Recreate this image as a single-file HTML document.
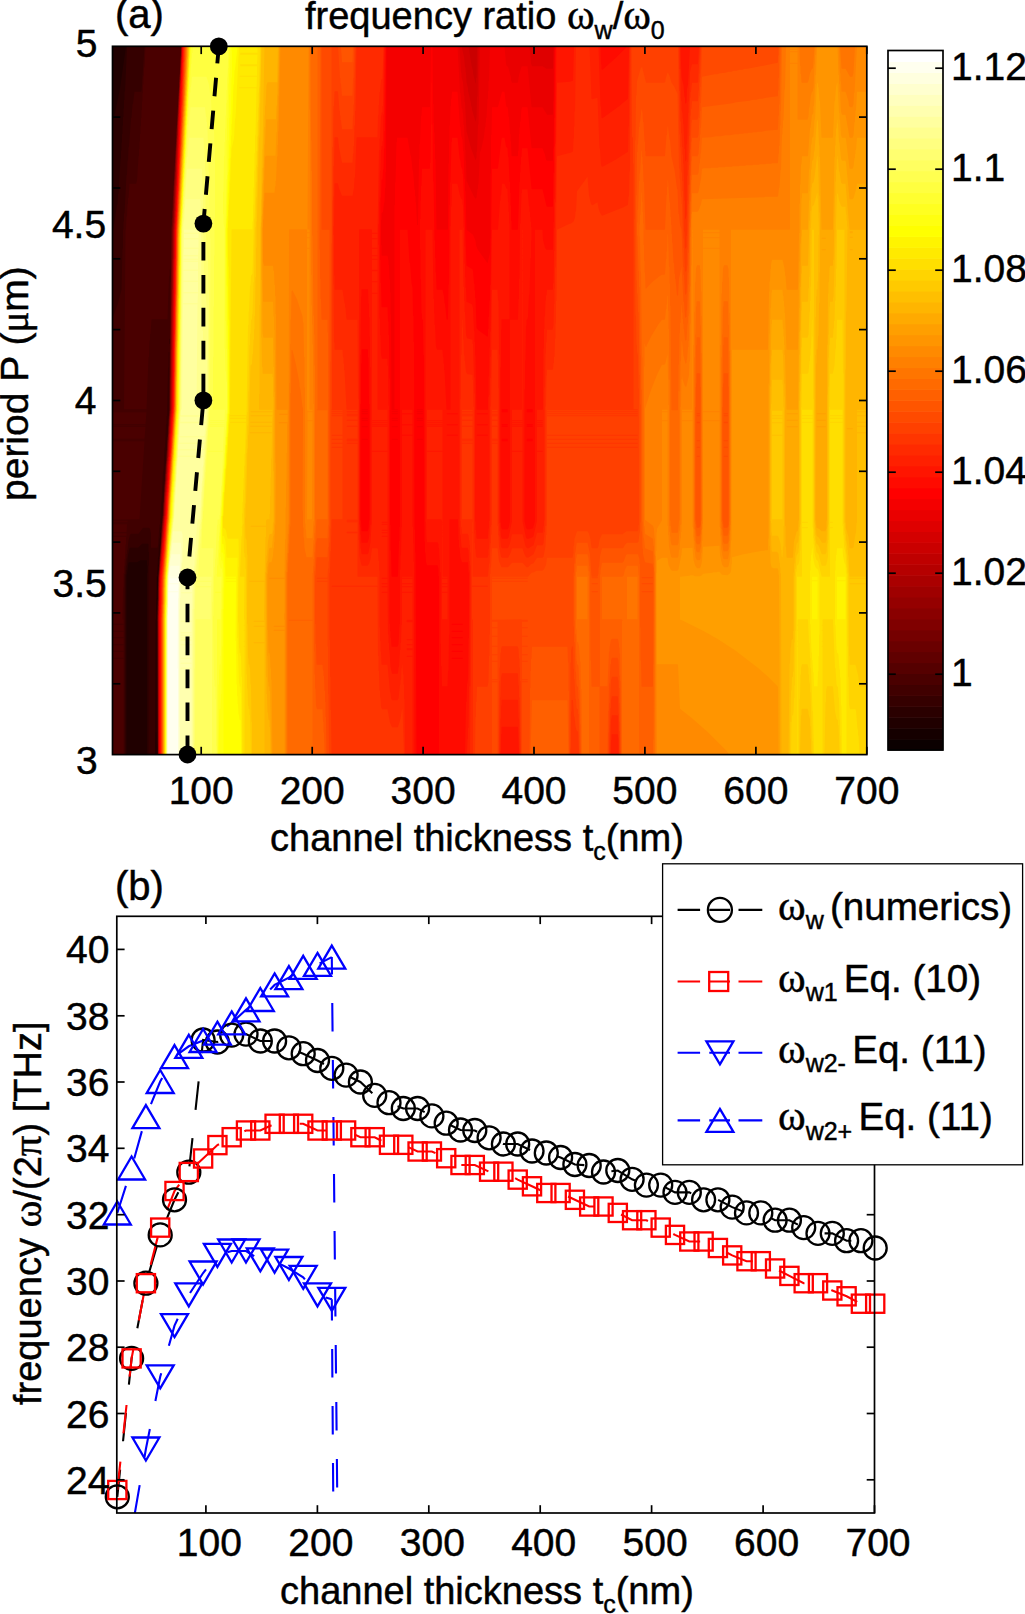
<!DOCTYPE html>
<html><head><meta charset="utf-8"><style>html,body{margin:0;padding:0;background:#fff;width:1025px;height:1614px;overflow:hidden}svg{display:block}text{stroke:#000;stroke-width:0.45px;paint-order:stroke}</style></head>
<body><svg width="1025" height="1614" viewBox="0 0 1025 1614">
<rect width="1025" height="1614" fill="#fff"/>
<g transform="translate(112.5,46.3) scale(0.5)">
<rect x="0" y="0" width="1509" height="1417" fill="#200000"/>
<path fill="#2a0000" fill-rule="evenodd" d="M27 0 15 84 5 134 0 151 0 1416 28 1416 28 1057 29 1056 32 1033 33 1032 49 1032 56 1028 68 1028 69 1029 69 1038 70 1039 70 1053 69 1054 69 1416 86 1416 86 1373 87 1372 88 1373 88 1416 1508 1416 1508 0ZM89 1103 90 1104 90 1130 89 1131 88 1130 88 1104ZM90 1060 91 1061 91 1087 90 1088 89 1087 89 1061ZM91 1048 92 1049 92 1055 91 1056 90 1055 90 1049ZM92 1036 93 1037 92 1041 91 1040ZM92 1025 93 1024 94 1025 93 1026Z"/>
<path fill="#350000" fill-rule="evenodd" d="M30 0 29 2 25 90 24 91 24 107 23 108 23 124 22 125 22 141 21 142 21 158 20 159 20 175 19 176 19 192 18 193 18 208 17 209 17 224 16 225 12 295 11 296 10 316 9 317 2 364 0 367 0 1416 26 1416 26 1057 27 1056 27 1048 28 1047 28 1039 29 1038 31 1018 34 1004 35 1003 51 1003 59 995 71 995 72 996 72 1011 73 1012 73 1038 72 1039 72 1416 85 1416 86 1147 87 1146 88 1061 89 1060 91 1022 92 1021 93 997 94 996 94 985 95 984 96 985 96 999 95 1000 94 1029 93 1030 92 1058 91 1059 90 1140 89 1141 89 1416 1508 1416 1508 0ZM96 973 97 974 97 984 96 985 95 984 95 974ZM97 962 98 963 98 969 97 970 96 969 96 963ZM98 951 99 952 98 955 97 954Z"/>
<path fill="#400000" fill-rule="evenodd" d="M64 0 58 90 57 91 44 91 41 115 40 116 38 143 37 144 33 201 32 202 31 228 30 229 29 257 28 258 24 334 23 335 23 350 22 351 22 366 21 367 21 404 20 405 18 487 10 517 0 544 0 1416 24 1416 24 1056 25 1055 27 1025 28 1024 28 1016 29 1015 29 1008 30 1007 32 989 35 977 37 975 52 975 61 963 73 963 75 965 77 975 77 1003 90 1003 91 999 94 957 95 956 95 945 96 944 97 913 98 912 101 850 102 849 104 803 105 802 107 756 108 755 108 740 109 739 111 643 112 642 112 612 113 611 114 612 113 739 112 740 112 755 111 756 110 787 109 788 107 834 106 835 106 849 105 850 100 944 99 945 98 974 97 975 95 1018 94 1019 93 1047 92 1048 92 1063 91 1064 91 1106 90 1107 90 1395 91 1396 91 1416 1508 1416 1508 0ZM114 585 115 586 115 595 114 596 113 595 113 586Z"/>
<path fill="#4a0000" fill-rule="evenodd" d="M0 1225 0 1416 22 1416 22 1225ZM0 1211 0 1223 22 1223 22 1211ZM0 1198 0 1209 22 1209 22 1198ZM0 1184 0 1196 22 1196 22 1184ZM0 1171 0 1182 22 1182 22 1171ZM0 1157 0 1169 22 1169 22 1157ZM0 981 0 1155 22 1155 22 1147 20 1146 21 1083 22 1082 22 1054 23 1053 23 1040 24 1039 24 1026 25 1025 26 997 27 996 27 983 28 981ZM0 974 0 979 28 979 28 974ZM0 956 0 972 28 972 29 956ZM0 953 0 954 30 954 30 953ZM0 949 0 951 30 951 30 949ZM0 790 0 947 54 946 64 790ZM0 787 0 788 64 788 64 787ZM0 761 0 785 64 785 66 761ZM0 758 0 759 66 759 66 758ZM0 732 0 756 66 756 68 732ZM0 729 0 730 68 730 68 729ZM66 0 64 42 63 43 63 59 62 60 62 76 61 77 61 93 60 94 60 110 59 111 59 127 58 128 58 143 57 144 57 159 56 160 56 175 55 176 55 190 54 191 54 205 53 206 53 219 52 220 49 269 47 275 34 275 32 303 31 304 31 315 30 316 29 340 28 341 27 366 26 367 23 726 68 726 72 622 73 621 74 589 75 588 75 576 76 575 78 547 79 546 110 546 113 460 114 459 114 447 115 446 116 447 114 729 113 730 113 745 112 746 109 808 108 809 107 839 106 840 106 855 105 856 105 870 104 871 102 918 101 919 100 949 99 950 96 1007 95 1008 95 1021 94 1022 94 1036 93 1037 93 1050 92 1051 92 1073 91 1074 91 1116 90 1117 91 1416 1508 1416 1508 0Z"/>
<path fill="#550000" fill-rule="evenodd" d="M137 0 134 65 133 66 133 84 132 85 132 102 131 103 131 121 130 122 130 139 129 140 129 158 128 159 128 176 127 177 127 195 126 196 126 214 125 215 125 232 124 233 124 251 123 252 123 269 122 270 122 288 121 289 121 307 120 308 120 326 119 327 119 345 118 346 118 364 117 365 117 471 116 472 116 577 115 578 114 734 113 735 112 766 111 767 111 781 110 782 108 829 107 830 105 876 104 877 102 923 101 924 101 939 100 940 100 954 99 955 96 1011 95 1012 95 1025 94 1026 94 1039 93 1040 93 1054 92 1055 92 1083 91 1084 91 1126 90 1127 91 1416 1508 1416 1508 0Z"/>
<path fill="#600000" fill-rule="evenodd" d="M137 0 134 70 133 71 133 89 132 90 132 108 131 109 131 126 130 127 130 145 129 146 129 164 128 165 128 183 127 184 127 202 126 203 126 221 125 222 125 240 124 241 124 259 123 260 123 278 122 279 119 358 118 359 114 739 113 740 111 787 110 788 108 834 107 835 105 881 104 882 104 897 103 898 103 912 102 913 101 944 100 945 96 1015 95 1016 95 1029 94 1030 94 1043 93 1044 93 1057 92 1058 91 1136 90 1137 91 1416 1508 1416 1508 0Z"/>
<path fill="#6a0000" fill-rule="evenodd" d="M138 0 137 1 137 19 136 20 136 37 135 38 135 56 134 57 134 75 133 76 133 94 132 95 132 113 131 114 131 132 130 133 130 151 129 152 129 170 128 171 128 190 127 191 127 209 126 210 126 228 125 229 125 248 124 249 124 268 123 269 123 288 122 289 121 329 120 330 120 351 119 352 115 729 114 730 114 745 113 746 113 760 112 761 112 776 111 777 110 808 109 809 107 855 106 856 106 870 105 871 101 949 100 950 100 963 99 964 94 1046 93 1047 93 1060 92 1061 92 1103 91 1104 91 1146 90 1147 91 1151 91 1400 92 1401 92 1416 1508 1416 1508 0Z"/>
<path fill="#750000" fill-rule="evenodd" d="M138 0 137 23 136 24 136 42 135 43 135 61 134 62 134 80 133 81 133 99 132 100 131 138 130 139 130 157 129 158 127 216 126 217 124 277 123 278 123 299 122 300 121 343 120 344 120 370 119 371 115 734 114 735 109 829 108 830 106 876 105 877 105 891 104 892 102 939 101 940 101 953 100 954 100 967 99 968 99 980 98 981 95 1036 94 1037 94 1049 93 1050 93 1070 92 1071 92 1113 91 1114 92 1416 1508 1416 1508 0Z"/>
<path fill="#800000" fill-rule="evenodd" d="M138 0 136 47 135 48 135 66 134 67 134 85 133 86 133 105 132 106 132 124 131 125 131 144 130 145 130 164 129 165 129 184 128 185 128 204 127 205 127 224 126 225 125 266 124 267 122 334 121 335 121 360 120 361 115 739 114 740 114 755 113 756 112 787 111 788 109 834 108 835 108 849 107 850 102 944 101 945 101 958 100 959 100 971 99 972 99 984 98 985 97 1012 96 1013 94 1053 93 1054 93 1079 92 1080 92 1122 91 1123 92 1416 1508 1416 1508 0Z"/>
<path fill="#8a0000" fill-rule="evenodd" d="M138 0 135 71 134 72 134 91 133 92 133 110 132 111 132 130 131 131 131 150 130 151 130 170 129 171 129 191 128 192 128 212 127 213 127 233 126 234 126 254 125 255 123 324 122 325 122 351 121 352 119 518 118 519 118 588 117 589 117 662 116 663 116 729 115 730 115 745 114 746 114 760 113 761 113 776 112 777 111 808 110 809 108 855 107 856 107 870 106 871 102 949 101 950 98 1002 97 1003 97 1015 96 1016 96 1029 95 1030 95 1042 94 1043 94 1056 93 1057 92 1132 91 1133 92 1416 1508 1416 1508 0Z"/>
<path fill="#950000" fill-rule="evenodd" d="M138 0 134 96 133 97 133 116 132 117 132 136 131 137 131 157 130 158 130 177 129 178 129 198 128 199 126 264 125 265 122 366 121 367 121 426 120 427 120 486 119 487 116 734 115 735 110 829 109 830 107 876 106 877 106 891 105 892 103 939 102 940 102 953 101 954 97 1019 96 1020 96 1032 95 1033 95 1046 94 1047 94 1059 93 1060 92 1142 91 1143 91 1171 92 1172 92 1416 1508 1416 1508 0Z"/>
<path fill="#9f0000" fill-rule="evenodd" d="M139 0 138 4 138 22 137 23 137 42 136 43 136 62 135 63 135 82 134 83 134 102 133 103 133 122 132 123 128 228 127 229 127 251 126 252 126 275 125 276 123 353 122 354 116 739 115 740 113 787 112 788 110 834 109 835 107 881 106 882 106 897 105 898 105 912 104 913 103 944 102 945 102 957 101 958 101 970 100 971 100 983 99 984 99 996 98 997 98 1009 97 1010 97 1022 96 1023 96 1035 95 1036 95 1049 94 1050 94 1066 93 1067 93 1109 92 1110 92 1416 1508 1416 1508 0Z"/>
<path fill="#aa0000" fill-rule="evenodd" d="M139 0 138 27 137 28 137 47 136 48 136 67 135 68 135 87 134 88 134 108 133 109 133 128 132 129 132 149 131 150 130 192 129 193 126 288 125 289 125 314 124 315 124 341 123 342 123 366 122 367 122 426 121 427 121 486 120 487 120 546 119 547 119 606 118 607 117 729 116 730 116 745 115 746 115 760 114 761 114 776 113 777 113 792 112 793 112 808 111 809 111 823 110 824 110 839 109 840 109 855 108 856 108 870 107 871 103 948 102 949 101 974 100 975 100 986 99 987 96 1039 95 1040 95 1052 94 1053 94 1076 93 1077 93 1119 92 1120 92 1416 1508 1416 1508 0Z"/>
<path fill="#b50000" fill-rule="evenodd" d="M139 0 136 72 135 73 135 93 134 94 134 114 133 115 133 135 132 136 132 156 131 157 131 178 130 179 130 200 129 201 125 328 124 329 124 354 123 355 117 734 116 735 111 829 110 830 108 876 107 877 107 891 106 892 104 939 103 940 103 953 102 954 97 1029 96 1030 96 1042 95 1043 95 1055 94 1056 93 1129 92 1130 92 1416 1508 1416 1508 0Z"/>
<path fill="#bf0000" fill-rule="evenodd" d="M139 0 136 78 135 79 135 99 134 100 134 120 133 121 133 141 132 142 132 163 131 164 131 186 130 187 130 209 129 210 129 236 128 237 128 263 127 264 124 366 123 367 123 426 122 427 118 726 117 727 117 742 116 743 115 774 114 775 112 821 111 822 111 836 110 837 110 852 109 853 109 868 108 869 108 884 107 885 107 899 106 900 104 946 103 947 103 958 102 959 100 994 99 995 99 1006 98 1007 98 1019 97 1020 97 1032 96 1033 96 1045 95 1046 95 1058 94 1059 93 1138 92 1139 93 1416 1508 1416 1508 0Z"/>
<path fill="#ca0000" fill-rule="evenodd" d="M140 0 139 2 139 21 138 22 136 83 135 84 133 148 132 149 128 277 127 278 127 303 126 304 126 329 125 330 125 354 124 355 118 734 117 735 112 829 111 830 109 876 108 877 108 891 107 892 105 939 104 940 104 952 103 953 103 964 102 965 98 1022 97 1023 97 1035 96 1036 96 1048 95 1049 95 1062 94 1063 94 1105 93 1106 93 1416 1508 1416 1508 0Z"/>
<path fill="#d40000" fill-rule="evenodd" d="M140 0 139 26 138 27 138 47 137 48 137 68 136 69 136 89 135 90 135 111 134 112 134 133 133 134 128 291 127 292 126 342 125 343 125 366 124 367 124 426 123 427 119 726 118 727 118 742 117 743 116 774 115 775 113 821 112 822 112 836 111 837 111 852 110 853 110 868 109 869 109 884 108 885 108 899 107 900 105 946 104 947 101 993 100 994 100 1004 99 1005 99 1015 98 1016 98 1026 97 1027 96 1051 95 1052 95 1072 94 1073 94 1115 93 1116 93 1416 1508 1416 1508 0 730 0 729 5 728 63 727 64 727 73 726 74 721 54 721 49 718 38 712 0Z"/>
<path fill="#df0000" fill-rule="evenodd" d="M140 0 138 52 137 53 137 74 136 75 136 95 135 96 135 117 134 118 131 227 130 228 129 279 128 280 128 304 127 305 127 329 126 330 126 354 125 355 119 734 118 735 113 829 112 830 110 876 109 877 109 891 108 892 106 939 105 940 103 976 102 977 98 1033 97 1034 97 1044 96 1045 96 1055 95 1056 95 1082 94 1083 94 1125 93 1126 93 1416 1508 1416 1508 0 732 0 730 100 729 101 728 143 726 151 719 127 719 123 717 118 717 114 711 89 711 84 708 72 707 53 706 52 706 43 705 42 703 21 698 0Z"/>
<path fill="#ea0000" fill-rule="evenodd" d="M140 0 137 79 136 80 136 105 135 106 135 133 134 134 134 161 133 162 133 188 132 189 132 215 131 216 127 342 126 343 126 366 125 367 125 426 124 427 120 726 119 727 119 742 118 743 117 774 116 775 114 821 113 822 113 836 112 837 112 852 111 853 111 868 110 869 110 884 109 885 109 899 108 900 106 946 105 947 103 982 102 983 99 1028 98 1029 98 1039 97 1040 97 1050 96 1051 96 1065 95 1066 95 1108 94 1109 94 1416 1508 1416 1508 0 882 0 881 44 880 45 868 45 860 40 839 40 837 34 834 0 735 0 732 156 731 157 729 211 728 212 728 223 726 228 717 204 708 170 705 112 704 111 704 100 703 99 701 72 698 62 698 54 697 53 694 0Z"/>
<path fill="#f40000" fill-rule="evenodd" d="M140 0 138 65 137 66 137 94 136 95 136 122 135 123 135 150 134 151 134 177 133 178 133 203 132 204 132 229 131 230 131 255 130 256 128 330 127 331 127 354 126 355 120 734 119 735 114 829 113 830 111 876 110 877 110 891 109 892 107 939 106 940 102 1000 101 1001 98 1046 97 1047 97 1057 96 1058 95 1134 94 1135 94 1416 1508 1416 1508 0 883 0 882 110 881 111 881 136 880 137 869 137 860 122 839 122 838 121 830 40 819 40 818 41 813 58 811 72 810 73 799 73 797 68 797 63 791 41 788 39 787 35 784 0 755 0 753 69 752 70 752 89 751 90 751 105 750 106 748 143 747 144 747 152 746 153 746 161 745 162 743 181 737 208 735 212 732 276 731 277 731 285 730 286 728 303 726 305 723 301 708 269 707 229 706 228 706 208 705 207 703 158 702 157 701 133 700 132 700 126 698 123 696 94 695 93 690 0Z"/>
<path fill="#ff0000" fill-rule="evenodd" d="M141 0 140 25 139 26 139 54 138 55 138 83 137 84 137 111 136 112 136 138 135 139 135 165 134 166 134 192 133 193 129 318 128 319 128 342 127 343 127 366 126 367 126 426 125 427 121 726 120 727 120 742 119 743 118 774 117 775 115 821 114 822 114 836 113 837 113 852 112 853 112 868 111 869 111 884 110 885 110 899 109 900 107 946 106 947 101 1018 100 1019 99 1041 98 1042 98 1052 97 1053 97 1073 96 1074 96 1116 95 1117 95 1416 1508 1416 1508 0 885 0 882 204 881 205 881 228 880 229 869 229 867 227 865 217 860 204 839 204 838 203 830 122 819 122 818 126 816 151 815 152 815 162 814 163 814 175 813 176 812 209 811 210 811 219 810 220 799 220 798 219 797 191 796 190 796 176 795 175 793 142 792 141 791 126 790 122 788 121 787 118 784 91 779 91 771 121 770 122 759 122 758 177 757 178 757 254 756 255 756 384 755 385 755 413 750 434 730 406 727 398 726 389 721 377 708 367 706 290 705 289 705 266 704 265 702 210 701 209 700 187 697 178 696 162 695 161 690 91 679 91 678 105 677 106 677 119 676 120 675 158 674 159 674 188 673 189 673 234 672 235 671 366 670 367 649 367 648 366 646 226 645 225 645 196 644 195 644 173 643 172 643 154 642 153 642 116 641 115 640 0 637 0 635 121 634 122 619 122 618 139 617 140 615 195 614 196 614 225 613 226 611 357 610 358 609 357 607 313 606 312 606 300 605 299 605 288 604 287 601 249 600 248 597 219 596 218 590 183 569 183 569 191 568 192 566 272 565 273 565 317 564 318 564 726 570 726 571 727 570 728 559 728 558 727 557 537 556 536 556 493 555 492 555 467 554 466 553 438 552 437 552 429 550 419 539 419 538 418 538 398 537 397 537 348 538 347 538 334 541 331 543 313 544 312 545 284 546 283 546 252 547 251 548 0ZM608 786 609 785 620 785 621 786 620 787 609 787ZM558 786 559 785 570 785 571 786 570 787 559 787ZM498 786 499 785 510 785 511 786 510 787 499 787ZM608 761 609 760 620 760 621 761 620 762 609 762ZM558 761 559 760 570 760 571 761 570 762 559 762ZM498 761 499 760 510 760 511 761 510 762 499 762ZM608 748 609 747 620 747 621 748 620 749 609 749ZM558 748 559 747 570 747 571 748 570 749 559 749ZM498 748 499 747 510 747 511 748 510 749 499 749ZM608 744 609 743 620 743 621 744 620 745 609 745ZM558 744 559 743 570 743 571 744 570 745 559 745ZM498 744 499 743 510 743 511 744 510 745 499 745ZM608 735 609 734 620 734 621 735 620 736 609 736ZM558 735 559 734 570 734 571 735 570 736 559 736ZM498 735 499 734 510 734 511 735 510 736 499 736ZM608 731 609 730 620 730 621 731 620 732 609 732ZM558 731 559 730 570 730 571 731 570 732 559 732ZM498 731 499 730 510 730 511 731 510 732 499 732ZM608 727 609 726 620 726 621 727 620 728 609 728ZM498 727 499 726 510 726 511 727 510 728 499 728Z"/>
<path fill="#ff0b00" fill-rule="evenodd" d="M141 0 139 72 138 73 138 100 137 101 137 127 136 128 136 154 135 155 135 181 134 182 134 206 133 207 133 232 132 233 131 282 130 283 129 331 128 332 128 355 127 356 121 734 120 735 115 829 114 830 112 876 111 877 111 891 110 892 108 939 107 940 106 965 105 966 102 1013 101 1014 99 1048 98 1049 98 1059 97 1060 96 1142 95 1143 95 1416 1508 1416 1508 0 887 0 887 6 886 7 885 143 884 144 884 200 883 201 883 252 882 253 881 320 880 321 869 321 868 320 860 286 839 286 838 285 830 204 819 204 818 221 817 222 817 236 816 237 816 252 815 253 815 271 814 272 811 366 810 367 799 367 798 366 798 350 797 349 797 319 796 318 796 294 795 293 795 272 794 271 792 222 791 221 790 204 787 201 784 183 779 183 778 186 771 244 770 245 759 245 756 477 755 478 755 508 754 509 753 541 752 542 752 565 751 566 751 580 750 581 733 569 728 564 726 504 725 503 725 489 724 488 724 476 723 475 721 450 720 446 708 439 701 256 700 255 700 247 697 241 696 230 694 223 690 183 679 183 679 191 678 192 676 272 675 273 675 317 674 318 673 476 672 477 671 546 670 547 668 546 665 515 664 514 663 501 660 487 649 487 648 486 647 453 646 452 646 424 645 423 645 389 644 388 642 271 641 270 640 157 639 156 639 73 638 73 638 156 637 157 636 233 635 234 635 244 634 245 619 245 618 279 617 280 617 308 616 309 616 345 615 346 615 406 616 407 616 465 617 466 618 534 619 535 619 546 621 547 622 617 623 618 624 990 625 991 625 1012 626 1013 627 1031 629 1038 650 1038 652 1045 652 1059 653 1060 653 1414 652 1415 609 1415 608 1414 606 1013 605 1012 605 967 604 966 603 592 602 591 602 540 601 539 600 483 598 474 595 434 594 433 590 367 575 367 575 961 574 962 574 989 573 990 571 1060 570 1061 559 1061 558 1060 557 1009 556 1008 556 958 555 957 555 665 554 664 553 578 552 577 552 551 551 550 550 522 539 522 538 521 537 474 536 473 536 428 535 427 536 303 537 302 538 267 540 266 541 247 542 246 543 205 544 204 544 170 545 169 547 0ZM678 1224 679 1223 700 1223 701 1224 700 1225 679 1225ZM678 1210 679 1209 700 1209 701 1210 700 1211 679 1211ZM678 1197 679 1196 700 1196 701 1197 700 1198 679 1198ZM678 1183 679 1182 700 1182 701 1183 700 1184 679 1184ZM678 1170 679 1169 700 1169 701 1170 700 1171 679 1171ZM678 1156 679 1155 700 1155 701 1156 700 1157 679 1157ZM828 789 829 788 840 788 841 789 840 790 829 790ZM778 789 779 788 790 788 791 789 790 790 779 790ZM828 786 829 785 840 785 841 786 840 787 829 787ZM778 786 779 785 790 785 791 786 790 787 779 787ZM828 760 829 759 840 759 841 760 840 761 829 761ZM778 760 779 759 790 759 791 760 790 761 779 761ZM828 757 829 756 840 756 841 757 840 758 829 758ZM778 757 779 756 790 756 791 757 790 758 779 758ZM828 731 829 730 840 730 841 731 840 732 829 732ZM778 731 779 730 790 730 791 731 790 732 779 732ZM828 727 829 726 840 726 841 728 840 729 829 729ZM778 727 779 726 790 726 791 728 790 729 779 729ZM499 606 510 606 511 607 511 622 512 623 513 715 514 716 514 948 513 949 512 966 510 970 499 970 498 969 497 949 496 948 496 716 497 715 497 635 498 634 498 607Z"/>
<path fill="#ff1500" fill-rule="evenodd" d="M579 758 579 777 600 777 600 758ZM579 736 579 756 600 756 600 736ZM579 727 579 734 600 734 600 727ZM888 0 886 195 885 196 885 253 884 254 884 305 883 306 883 351 882 352 881 406 880 407 868 407 865 403 861 387 860 367 845 367 845 949 841 964 835 966 829 966 827 963 824 949 824 687 825 686 825 629 826 628 827 559 828 558 828 547 830 546 831 541 833 497 834 496 836 424 837 423 837 389 838 388 838 362 837 361 837 352 836 351 836 342 835 341 835 332 834 331 834 321 833 320 830 286 819 286 819 293 818 294 816 354 815 355 814 465 813 466 813 505 812 506 811 546 810 547 795 547 794 546 794 355 793 354 793 332 792 331 792 312 791 311 790 286 788 285 784 275 779 275 777 298 776 299 776 308 775 309 771 366 770 367 759 367 756 570 755 571 755 602 754 603 753 660 752 661 752 701 751 702 751 726 750 727 729 727 728 726 726 619 725 618 725 592 724 591 724 570 723 569 721 523 719 516 708 511 707 484 706 483 706 462 705 461 705 435 704 434 704 401 703 400 703 363 702 362 701 317 700 316 700 307 697 304 694 295 690 275 679 275 678 320 677 321 677 359 676 360 676 726 675 727 669 727 668 726 664 648 663 647 663 635 662 634 662 623 661 622 660 607 649 607 647 601 645 558 644 557 644 535 643 534 643 506 642 505 640 367 626 367 626 951 627 952 628 986 629 987 629 992 650 992 652 996 652 1003 653 1004 654 1027 655 1028 655 1051 656 1052 656 1195 657 1196 657 1239 658 1240 659 1280 670 1280 671 1250 672 1249 673 1177 674 1176 674 947 675 946 690 946 691 947 692 987 693 988 693 1002 694 1003 696 1023 699 1032 710 1032 711 1033 712 1052 713 1053 713 1183 712 1184 711 1266 709 1276 708 1311 707 1312 705 1416 1508 1416 1508 0 1030 0 1009 21 980 47 978 46 978 37 977 36 976 0ZM728 778 729 777 750 777 751 778 750 779 729 779ZM668 778 669 777 690 777 691 778 690 779 669 779ZM728 757 729 756 750 756 751 757 750 758 729 758ZM668 757 669 756 690 756 691 757 690 758 669 758ZM728 735 729 734 750 734 751 735 750 736 729 736ZM668 735 669 734 690 734 691 735 690 736 669 736ZM779 546 794 546 795 547 795 949 792 963 790 966 779 966 777 961 777 953 776 952 776 643 777 642 777 567 778 566 778 547ZM142 0 141 4 141 33 140 34 140 61 139 62 139 89 138 90 138 117 137 118 137 143 136 144 136 169 135 170 135 195 134 196 134 221 133 222 133 246 132 247 132 270 131 271 131 295 130 296 130 319 129 320 129 342 128 343 128 364 127 365 127 424 126 425 126 486 125 487 122 726 121 727 121 742 120 743 119 774 118 775 116 821 115 822 115 836 114 837 114 852 113 853 113 868 112 869 112 884 111 885 111 899 110 900 108 946 107 947 107 959 106 960 106 971 105 972 105 983 104 984 104 995 103 996 103 1007 102 1008 102 1019 101 1020 101 1031 100 1032 100 1043 99 1044 99 1055 98 1056 98 1082 97 1083 97 1125 96 1126 96 1416 604 1416 603 1032 602 1031 602 995 601 994 601 962 600 961 600 779 579 779 579 961 578 962 577 1018 576 1019 576 1046 575 1047 575 1155 574 1156 572 1195 570 1201 559 1201 558 1200 557 1184 556 1183 556 1170 555 1169 555 1156 554 1155 553 719 552 718 551 639 550 638 550 625 539 625 537 617 536 578 535 577 535 545 534 544 533 398 532 397 532 356 533 355 533 312 534 311 535 250 536 249 537 208 538 207 538 200 540 199 540 190 541 189 542 137 543 136 545 0ZM499 486 510 486 511 487 512 514 513 515 513 541 514 542 514 580 515 581 515 641 516 642 516 957 515 958 513 983 510 993 499 993 498 992 497 977 496 976 496 962 495 961 495 618 496 617 497 501 498 500 498 487Z"/>
<path fill="#ff2000" fill-rule="evenodd" d="M659 1093 659 1146 670 1146 670 1093ZM659 1082 659 1091 670 1091 670 1082ZM579 1082 579 1091 600 1091 600 1082ZM659 1076 659 1080 670 1080 670 1076ZM579 1076 579 1080 600 1080 600 1076ZM659 1065 659 1074 670 1074 670 1065ZM579 1065 579 1074 600 1074 600 1065ZM579 1061 579 1063 600 1063 600 1061ZM659 981 659 1063 670 1063 670 1061 661 1061 660 1060 660 981ZM659 974 659 979 660 979 660 974ZM659 969 659 972 660 972 660 969ZM659 957 659 967 660 967 660 957ZM659 953 659 955 660 955 660 953ZM629 811 629 946 658 946 659 951 660 951 660 811ZM799 761 799 809 820 809 820 761ZM629 761 629 809 660 809 660 761ZM519 761 519 809 550 809 550 761ZM799 758 799 759 820 759 820 758ZM629 758 629 759 660 759 660 758ZM519 758 519 759 550 759 550 758ZM799 754 799 756 820 756 820 754ZM629 754 629 756 660 756 660 754ZM519 754 519 756 550 756 550 754ZM799 750 799 752 820 752 820 750ZM629 750 629 752 660 752 660 750ZM519 750 519 752 550 752 550 750ZM629 727 629 748 660 748 660 727ZM820 495 819 495 819 726 818 727 799 727 799 748 820 748ZM519 495 519 748 550 748 550 727 531 727 530 726 530 495ZM819 472 819 493 820 493 820 472ZM519 472 519 493 530 493 530 472ZM819 450 819 470 820 470 820 450ZM519 450 519 470 530 470 530 450ZM819 427 819 447 820 447 820 427ZM519 427 519 447 530 447 530 427ZM819 420 819 425 820 425 820 420ZM519 420 519 425 530 425 530 420ZM819 405 819 418 820 418 820 405ZM519 405 519 418 530 418 530 405ZM819 386 819 403 820 403 820 386ZM519 386 519 403 530 403 530 386ZM819 375 819 384 820 384 820 375ZM519 375 519 384 530 384 530 375ZM819 367 819 373 820 373 820 367ZM923 0 921 69 915 71 889 73 886 312 885 313 885 363 884 364 884 409 883 410 882 474 881 475 881 486 880 487 869 487 868 498 867 499 867 508 866 509 865 540 864 541 864 565 863 566 863 604 862 605 861 726 860 727 849 727 849 748 860 748 861 749 860 750 849 750 849 752 860 752 861 753 860 754 849 754 849 756 860 756 861 757 860 758 849 758 849 759 860 759 861 760 860 761 849 761 849 809 860 809 861 810 860 811 849 811 849 949 842 980 840 982 832 985 829 985 827 983 820 950 820 811 799 811 799 950 792 983 790 985 779 985 777 981 775 954 774 953 774 617 773 616 772 509 771 508 770 487 759 487 757 621 756 622 756 663 755 664 755 697 754 698 754 949 753 950 753 964 752 965 751 984 750 985 729 985 728 984 727 968 726 967 726 951 725 950 725 695 724 694 724 663 723 662 721 596 720 595 720 587 709 584 707 577 705 532 704 531 704 510 703 509 703 482 702 481 700 367 694 367 694 962 695 963 695 976 696 977 698 1001 699 1003 710 1003 712 1008 713 1029 714 1030 714 1048 715 1049 714 1280 713 1281 712 1363 711 1364 711 1385 710 1386 709 1416 776 1416 776 1411 777 1410 777 1376 778 1375 778 1362 779 1361 810 1361 811 1362 813 1416 1508 1416 1508 0 1155 0 1151 76 1149 86 1148 112 1146 115 1145 114 1145 103 1144 102 1142 78 1138 62 1136 0 1033 0 1031 105 1013 120 980 144 978 143 977 121 976 120 972 0ZM142 0 137 159 136 160 133 259 132 260 131 306 130 307 130 328 129 329 129 350 128 351 128 383 127 384 127 448 126 449 126 513 125 514 125 576 124 577 122 734 121 735 121 750 120 751 120 766 119 767 119 781 118 782 118 797 117 798 117 813 116 814 116 829 115 830 115 844 114 845 114 860 113 861 113 876 112 877 112 891 111 892 108 953 107 954 105 990 104 991 104 1002 103 1003 103 1014 102 1015 102 1026 101 1027 101 1038 100 1039 100 1050 99 1051 99 1065 98 1066 98 1108 97 1109 97 1416 600 1416 600 1221 589 1221 588 1220 589 1219 600 1219 600 1208 589 1208 588 1207 589 1206 600 1206 589 1206 588 1205 589 1204 600 1204 600 1198 589 1198 588 1197 589 1196 600 1196 600 1188 589 1188 588 1187 589 1186 600 1186 600 1152 589 1152 588 1151 589 1149 600 1149 589 1149 588 1148 589 1147 600 1147 600 1093 579 1093 579 1157 578 1158 577 1193 576 1194 576 1207 575 1208 573 1241 572 1242 571 1254 570 1255 559 1255 556 1241 554 1208 553 1207 553 1194 552 1193 552 1177 551 1176 550 1093 539 1093 538 1092 539 1091 550 1091 550 1082 539 1082 538 1081 539 1080 550 1080 550 1076 539 1076 538 1075 539 1074 550 1074 550 1065 539 1065 538 1064 539 1063 550 1063 550 981 539 981 538 980 539 979 550 979 550 974 539 974 538 973 539 972 550 972 550 969 539 969 538 968 539 967 550 967 550 957 539 957 538 956 539 955 550 955 550 953 539 953 538 952 539 951 550 951 550 811 519 811 519 956 518 957 516 992 512 1013 510 1016 499 1016 498 1015 497 1005 496 1004 496 995 495 994 494 957 493 956 493 367 494 366 518 366 519 367 519 373 530 373 533 208 534 207 534 185 535 184 537 139 538 138 538 133 540 132 540 120 541 119 543 0Z"/>
<path fill="#ff2a00" fill-rule="evenodd" d="M927 0 925 130 924 131 924 160 923 161 923 184 922 185 921 210 919 212 889 220 886 442 885 443 885 484 884 485 884 515 883 516 882 558 880 567 869 567 868 592 867 593 867 614 866 615 865 682 864 683 864 948 863 949 863 959 862 960 861 972 860 973 849 973 842 998 832 1004 829 1004 826 1000 820 976 799 976 795 994 792 1002 790 1004 779 1004 777 1001 775 981 774 980 774 970 773 969 773 956 772 955 772 684 771 683 771 627 770 626 770 607 759 607 757 720 756 721 756 961 755 962 753 1005 752 1006 752 1017 750 1023 729 1023 727 1020 726 1006 725 1005 725 994 724 993 724 975 723 974 723 722 722 721 721 668 720 667 720 657 710 656 707 652 705 630 704 629 704 619 703 618 702 587 701 586 701 563 700 562 700 547 699 547 698 617 697 618 697 705 696 706 696 949 697 950 697 961 698 962 699 975 710 975 712 978 713 988 714 989 714 997 715 998 715 1012 716 1013 716 1038 717 1039 717 1280 716 1281 715 1416 775 1416 776 1345 777 1344 777 1319 778 1318 778 1308 779 1307 810 1307 811 1308 812 1344 813 1345 814 1416 996 1416 997 1412 997 1388 998 1387 998 1377 999 1376 1010 1376 1011 1377 1012 1416 1508 1416 1508 0 1173 0 1171 35 1170 36 1159 36 1155 51 1153 110 1152 111 1152 133 1151 134 1149 195 1148 196 1148 225 1146 230 1145 229 1145 206 1144 205 1142 156 1141 155 1141 145 1140 144 1140 135 1138 125 1138 110 1137 109 1136 46 1135 45 1135 2 1134 0 1035 0 1035 6 1034 7 1033 160 1032 161 1031 211 1006 227 980 241 978 240 977 237 975 205 974 204 970 103 959 106 958 105 954 0ZM143 0 141 69 140 70 140 96 139 97 139 122 138 123 138 148 137 149 137 173 136 174 136 199 135 200 135 223 134 224 134 248 133 249 132 293 131 294 130 337 129 338 129 358 128 359 125 603 124 604 124 666 123 667 123 726 122 727 122 742 121 743 120 774 119 775 117 821 116 822 116 836 115 837 115 852 114 853 114 868 113 869 113 884 112 885 112 899 111 900 109 946 108 947 106 984 105 985 103 1021 102 1022 102 1033 101 1034 101 1045 100 1046 100 1057 99 1058 98 1134 97 1135 97 1416 585 1416 584 1306 583 1305 583 1277 582 1276 582 1257 581 1256 580 1237 579 1237 579 1243 578 1244 577 1267 576 1268 576 1276 575 1277 572 1304 570 1308 559 1308 557 1304 556 1293 555 1292 550 1237 539 1237 538 1236 537 1211 536 1210 536 1190 535 1189 535 1163 534 1162 534 1049 533 1048 533 1030 532 1029 531 1008 530 1004 519 1004 516 1026 513 1035 510 1039 499 1039 498 1038 494 1020 493 988 492 987 492 706 491 705 490 547 469 547 468 546 466 523 465 522 465 515 464 514 460 487 445 487 444 486 444 459 443 458 443 378 442 377 442 360 443 359 444 275 445 274 450 274 451 275 453 284 459 299 480 299 483 283 484 263 485 262 488 183 489 182 530 182 531 138 532 137 532 118 533 117 534 92 535 91 537 69 538 66 540 65 542 0Z"/>
<path fill="#ff3500" fill-rule="evenodd" d="M719 952 719 971 720 971 720 952ZM699 795 699 946 718 946 720 947 720 795ZM759 790 759 793 770 793 770 790ZM699 790 699 793 720 793 720 790ZM759 787 759 788 770 788 770 787ZM699 787 699 788 720 788 720 787ZM759 761 759 785 770 785 770 761ZM699 761 699 785 720 785 720 761ZM759 749 759 759 770 759 770 749ZM699 749 699 759 720 759 720 749ZM759 740 759 747 770 747 770 740ZM699 740 699 747 720 747 720 740ZM759 737 759 738 770 738 770 737ZM699 737 699 738 720 738 720 737ZM759 732 759 735 770 735 770 732ZM699 732 699 735 720 735 720 732ZM759 727 759 730 770 730 770 727ZM699 727 699 730 720 730 720 727ZM1036 0 1035 250 1034 251 1033 300 1032 301 1031 317 1022 322 979 339 975 333 972 324 970 312 960 318 957 316 953 298 950 261 929 290 927 330 926 331 925 342 922 351 916 355 914 355 889 367 888 509 887 510 887 554 886 555 886 584 885 585 884 621 883 622 883 633 882 634 881 646 880 647 869 647 869 658 868 659 867 720 866 721 866 959 865 960 865 971 864 972 862 994 860 998 849 998 842 1016 831 1023 827 1022 823 1014 820 1004 799 1004 796 1014 791 1023 779 1023 777 1021 773 1000 772 978 771 977 771 960 770 959 770 795 759 795 759 957 758 958 758 976 757 977 757 993 756 994 754 1034 753 1035 751 1060 750 1061 721 1061 720 1060 720 974 719 974 719 1079 750 1079 751 1080 750 1081 719 1081 719 1146 721 1147 721 1416 773 1416 775 1303 776 1302 777 1262 779 1254 810 1254 811 1255 812 1278 813 1279 813 1302 814 1303 816 1416 995 1416 997 1348 999 1338 1010 1338 1011 1339 1012 1382 1013 1383 1013 1416 1508 1416 1508 0 1175 0 1171 72 1170 73 1159 73 1157 91 1156 92 1156 102 1155 103 1151 231 1150 232 1150 258 1149 259 1148 338 1146 346 1145 345 1145 309 1144 308 1142 235 1141 234 1141 217 1140 216 1140 202 1139 201 1138 174 1137 173 1137 151 1136 150 1135 90 1134 89 1134 46 1133 45 1133 0ZM144 0 143 4 143 31 142 32 142 59 141 60 141 85 140 86 140 112 139 113 135 235 134 236 132 302 131 303 130 345 129 346 129 366 128 367 128 431 127 432 127 496 126 497 126 561 125 562 123 734 122 735 117 829 116 830 114 876 113 877 113 891 112 892 110 939 109 940 109 953 108 954 108 965 107 966 103 1028 102 1029 102 1040 101 1041 101 1052 100 1053 100 1073 99 1074 99 1116 98 1117 98 1416 583 1416 580 1326 579 1326 576 1345 571 1361 570 1362 559 1362 555 1353 550 1326 539 1326 537 1321 536 1303 535 1302 535 1289 534 1288 533 1250 532 1249 532 1220 531 1219 530 1081 439 1081 438 1080 439 1079 530 1079 530 1061 491 1061 490 1060 490 974 469 974 468 973 469 971 490 971 490 952 469 952 468 951 469 950 490 950 490 949 469 949 468 948 469 947 490 947 490 795 469 795 468 794 469 793 490 793 490 790 469 790 468 789 469 788 490 788 490 787 469 787 468 786 469 785 490 785 490 761 469 761 468 760 469 759 490 759 490 749 469 749 468 748 469 747 490 747 490 740 469 740 468 739 469 738 490 738 490 737 469 737 468 736 469 735 490 735 490 732 469 732 468 731 469 730 490 730 490 727 469 727 468 726 464 648 463 647 463 635 462 634 462 623 461 622 460 607 445 607 444 606 444 593 443 592 442 477 441 476 441 301 442 300 442 240 443 239 444 183 445 182 450 182 451 183 453 202 459 233 480 233 481 215 482 214 482 200 483 199 484 159 485 158 485 130 486 129 488 0Z"/>
<path fill="#ff4000" fill-rule="evenodd" d="M1038 0 1039 181 1041 183 1041 234 1042 235 1042 726 1050 726 1051 727 1050 728 869 728 869 730 1050 730 1051 731 1050 732 869 732 869 734 1050 734 1051 735 1050 736 869 736 869 738 1050 738 1051 739 1050 740 869 740 869 777 1050 777 1051 778 1050 779 869 779 869 785 1050 785 1051 786 1050 787 869 787 869 793 1050 793 1051 794 1050 795 869 795 869 801 1050 801 1051 802 1050 803 869 803 869 959 868 960 868 977 867 978 866 1000 862 1021 860 1023 849 1023 842 1034 837 1036 831 1042 828 1042 820 1033 799 1033 791 1042 778 1042 773 1030 770 1004 759 1004 757 1042 756 1043 756 1055 755 1056 755 1176 754 1177 754 1219 753 1220 752 1271 750 1281 729 1281 728 1311 727 1312 727 1341 726 1342 725 1416 772 1416 773 1270 774 1269 774 1243 775 1242 776 1213 777 1212 777 1205 779 1200 810 1200 812 1205 813 1224 814 1225 814 1242 815 1243 815 1269 816 1270 817 1416 916 1416 916 1405 917 1404 917 1331 918 1330 918 1308 919 1307 921 1308 923 1340 924 1341 926 1360 928 1368 931 1371 933 1416 993 1416 996 1324 997 1323 997 1308 999 1300 1010 1300 1011 1301 1012 1335 1013 1336 1013 1369 1014 1370 1014 1416 1508 1416 1508 0 1177 0 1175 54 1174 55 1174 72 1173 73 1173 88 1172 89 1171 109 1170 110 1159 110 1158 125 1157 126 1157 138 1156 139 1155 179 1154 180 1154 213 1153 214 1153 247 1152 248 1152 277 1151 278 1151 308 1150 309 1149 379 1148 380 1148 401 1146 405 1145 404 1144 371 1143 370 1141 290 1140 289 1140 270 1139 269 1139 253 1138 252 1136 202 1135 201 1135 177 1134 176 1131 0ZM144 0 140 127 139 128 139 152 138 153 138 176 137 177 137 200 136 201 133 289 132 290 131 332 130 333 130 353 129 354 127 520 126 521 126 585 125 586 125 651 124 652 124 717 123 718 123 740 122 741 119 803 118 804 118 818 117 819 117 834 116 835 115 866 114 867 112 913 111 914 111 928 110 929 110 944 109 945 105 1010 104 1011 103 1035 102 1036 102 1047 101 1048 101 1059 100 1060 99 1142 98 1143 98 1416 580 1416 580 1415 439 1415 438 1414 437 1328 436 1327 436 1262 435 1261 435 1188 434 1187 434 1054 435 1053 436 1010 437 1009 438 947 439 946 460 946 460 803 439 803 438 802 439 801 460 801 460 795 439 795 438 794 439 793 460 793 460 787 439 787 438 786 439 785 460 785 460 779 439 779 438 778 439 777 460 777 460 740 439 740 438 739 439 738 460 738 460 736 439 736 438 735 439 734 460 734 460 732 439 732 438 731 439 730 460 730 460 728 439 728 438 727 439 726 439 309 440 308 440 202 441 201 442 120 443 119 444 91 445 90 450 90 451 91 454 129 455 130 455 138 456 139 456 147 457 148 459 166 480 166 481 139 482 138 482 117 483 116 486 0Z"/>
<path fill="#ff4a00" fill-rule="evenodd" d="M770 1272 759 1272 759 1414 758 1415 729 1415 729 1416 770 1416ZM759 1268 759 1270 770 1270 770 1268ZM759 1231 759 1266 770 1266 770 1231ZM759 1218 759 1229 770 1229 770 1218ZM759 1201 759 1216 770 1216 770 1201ZM759 1181 759 1199 770 1199 770 1181ZM759 1164 759 1179 770 1179 770 1164ZM759 1151 759 1162 770 1162 770 1151ZM1508 0 1179 0 1177 62 1176 63 1176 81 1175 82 1175 99 1174 100 1172 140 1170 147 1159 147 1159 152 1158 153 1156 206 1155 207 1155 237 1154 238 1154 276 1153 277 1153 315 1152 316 1150 406 1149 407 1148 448 1146 451 1145 450 1143 404 1142 403 1142 385 1141 384 1139 316 1138 315 1138 302 1137 301 1135 265 1134 264 1134 245 1133 244 1130 95 1123 80 1118 73 1114 59 1111 53 1110 53 1106 66 1106 70 1104 73 1067 73 1059 41 1056 45 1049 70 1048 98 1047 99 1046 188 1045 189 1045 345 1044 346 1046 538 1047 539 1048 597 1049 598 1049 610 1051 618 1052 684 1053 685 1053 957 1052 958 1052 966 1050 970 1028 970 1020 976 979 976 974 987 972 1000 970 1004 959 1004 958 1003 956 986 953 975 950 970 929 970 924 985 923 999 922 1000 922 1013 920 1023 869 1023 867 1037 863 1046 860 1049 848 1049 843 1052 838 1053 831 1061 759 1061 759 1063 830 1063 831 1064 830 1065 759 1065 759 1069 830 1069 831 1070 830 1071 759 1071 759 1147 818 1146 819 1147 830 1147 831 1148 830 1149 819 1149 830 1149 831 1150 830 1151 819 1151 819 1162 830 1162 831 1163 830 1164 819 1164 819 1179 830 1179 831 1180 830 1181 819 1181 819 1199 830 1199 831 1200 830 1201 819 1201 819 1216 830 1216 831 1217 830 1218 819 1218 819 1229 830 1229 831 1230 830 1231 819 1231 819 1266 830 1266 831 1267 830 1268 819 1268 819 1270 830 1270 831 1271 830 1272 819 1272 819 1416 915 1416 916 1233 917 1232 917 1209 919 1200 921 1201 922 1245 923 1246 923 1265 924 1266 926 1305 927 1306 928 1322 929 1325 931 1326 931 1335 932 1336 934 1416 992 1416 992 1373 993 1372 994 1314 995 1313 997 1268 999 1261 1010 1261 1012 1270 1013 1313 1014 1314 1014 1351 1015 1352 1015 1409 1016 1410 1016 1416 1508 1416ZM451 0 455 63 456 64 456 74 457 75 459 99 480 99 481 64 482 63 482 33 483 32 483 0ZM145 0 143 65 142 66 142 91 141 92 141 117 140 118 140 141 139 142 139 164 138 165 138 187 137 188 137 210 136 211 133 298 132 299 132 319 131 320 131 340 130 341 130 361 129 362 124 730 123 731 121 777 120 778 118 824 117 825 117 840 116 841 114 887 113 888 112 918 111 919 111 934 110 935 110 949 109 950 107 989 106 990 106 1002 105 1003 105 1015 104 1016 104 1028 103 1029 103 1041 102 1042 102 1054 101 1055 101 1082 100 1083 100 1125 99 1126 99 1416 433 1416 432 1296 431 1295 431 1201 430 1200 430 1071 409 1071 408 1070 409 1069 430 1069 430 1065 409 1065 408 1064 409 1063 430 1063 431 1045 432 1044 432 1031 433 1030 434 993 435 992 435 965 436 964 436 631 437 630 437 395 438 394 438 0Z"/>
<path fill="#ff5500" fill-rule="evenodd" d="M839 1201 838 1225 837 1226 837 1249 836 1250 836 1283 835 1284 834 1416 913 1416 913 1290 912 1289 912 1233 911 1232 910 1201ZM1508 0 1332 0 1332 18 1331 19 1331 32 1330 33 1270 45 1265 45 1259 47 1254 47 1248 49 1243 49 1237 51 1232 51 1226 53 1215 54 1209 56 1204 56 1179 61 1177 113 1176 114 1176 129 1175 130 1175 143 1174 144 1172 178 1170 183 1159 183 1159 190 1158 191 1156 258 1155 259 1155 294 1154 295 1152 413 1151 414 1151 438 1150 439 1148 494 1146 497 1145 496 1143 458 1142 457 1142 442 1141 441 1138 366 1135 357 1133 336 1132 335 1130 286 1129 285 1124 247 1118 221 1115 187 1114 186 1111 160 1110 161 1109 177 1108 178 1105 219 1104 220 1067 220 1066 219 1066 210 1065 209 1065 191 1064 190 1062 152 1061 151 1060 133 1058 125 1055 152 1054 153 1054 161 1053 162 1051 196 1050 197 1050 211 1049 212 1048 298 1047 299 1048 468 1049 469 1049 494 1050 495 1051 531 1052 532 1054 657 1055 658 1055 716 1056 717 1056 952 1055 953 1055 972 1054 973 1052 991 1050 993 1029 993 1025 997 1021 1004 979 1004 975 1020 973 1042 972 1043 972 1054 970 1061 959 1061 958 1060 955 1016 950 993 929 993 928 995 926 1012 925 1013 924 1034 923 1035 923 1052 922 1053 922 1160 923 1161 923 1191 924 1192 926 1251 927 1252 928 1275 929 1280 931 1281 932 1305 933 1306 936 1416 990 1416 991 1330 992 1329 993 1275 994 1274 996 1236 997 1235 997 1228 999 1223 1010 1223 1012 1229 1013 1258 1014 1259 1014 1283 1015 1284 1017 1416 1508 1416ZM1058 1091 1059 1090 1080 1090 1081 1091 1080 1092 1059 1092ZM958 1091 959 1090 970 1090 971 1091 970 1092 959 1092ZM1058 1075 1059 1074 1080 1074 1081 1075 1080 1076 1059 1076ZM958 1075 959 1074 970 1074 971 1075 970 1076 959 1076ZM1058 1063 1059 1062 1080 1062 1081 1063 1080 1064 1059 1064ZM958 1063 959 1062 970 1062 971 1063 970 1064 959 1064ZM1222 820 1223 819 1230 819 1231 820 1230 821 1223 821ZM1168 820 1169 819 1174 819 1175 820 1174 821 1169 821ZM1222 802 1223 801 1230 801 1231 802 1230 803 1223 803ZM1168 802 1169 801 1174 801 1175 802 1174 803 1169 803ZM1222 789 1223 788 1230 788 1231 789 1230 790 1223 790ZM1168 789 1169 788 1174 788 1175 789 1174 790 1169 790ZM1222 752 1223 751 1230 751 1231 753 1230 754 1223 754ZM1168 752 1169 751 1174 751 1175 753 1174 754 1169 754ZM1222 739 1223 738 1230 738 1231 739 1230 740 1223 740ZM1168 739 1169 738 1174 738 1175 739 1174 740 1169 740ZM1222 735 1223 734 1230 734 1231 735 1230 736 1223 736ZM1168 735 1169 734 1174 734 1175 735 1174 736 1169 736ZM456 0 457 2 459 32 480 32 481 0ZM146 0 145 4 145 30 144 31 144 56 143 57 143 82 142 83 142 106 141 107 141 130 140 131 140 153 139 154 139 176 138 177 138 198 137 199 137 220 136 221 136 242 135 243 135 264 134 265 134 285 133 286 133 306 132 307 132 327 131 328 131 348 130 349 130 374 129 375 129 438 128 439 128 502 127 503 127 567 126 568 124 735 123 736 123 751 122 752 122 767 121 768 121 782 120 783 120 798 119 799 119 814 118 815 118 829 117 830 117 845 116 846 116 861 115 862 115 877 114 878 114 892 113 893 110 954 109 955 107 994 106 995 106 1007 105 1008 105 1020 104 1021 104 1033 103 1034 103 1046 102 1047 102 1059 101 1060 100 1142 99 1143 99 1416 428 1416 427 1342 426 1341 426 1312 425 1311 425 1290 424 1289 423 1260 422 1259 422 1249 421 1248 420 1237 409 1237 408 1236 407 1196 406 1195 406 1156 405 1155 405 1059 406 1058 408 1023 409 1022 430 1022 431 1002 432 1001 432 983 433 982 433 961 434 960 434 367 419 367 418 366 418 0Z"/>
<path fill="#ff6000" fill-rule="evenodd" d="M839 1308 836 1416 912 1416 910 1308ZM1508 0 1334 0 1333 63 1332 64 1332 88 1331 89 1331 99 1330 100 1307 103 1300 105 1294 105 1287 107 1281 107 1274 109 1247 112 1240 114 1179 122 1177 163 1176 164 1176 176 1175 177 1175 188 1174 189 1172 215 1170 220 1159 220 1159 229 1158 230 1156 310 1155 311 1155 352 1154 353 1153 452 1152 453 1152 476 1151 477 1149 528 1148 529 1148 541 1146 543 1145 542 1143 512 1142 511 1138 441 1133 465 1131 498 1130 499 1129 498 1126 466 1125 465 1125 456 1124 455 1123 434 1122 433 1120 393 1119 392 1119 376 1118 375 1118 358 1117 357 1117 342 1116 341 1116 327 1115 326 1115 313 1114 312 1111 267 1110 269 1110 281 1109 282 1109 297 1108 298 1105 366 1104 367 1067 367 1066 366 1063 272 1062 271 1061 237 1060 236 1060 222 1059 221 1059 210 1058 208 1055 254 1054 255 1054 269 1053 270 1051 327 1050 328 1050 352 1049 353 1049 378 1050 379 1052 449 1053 450 1053 481 1054 482 1056 618 1057 619 1057 686 1058 687 1058 970 1059 971 1060 1005 1061 1006 1061 1015 1065 1032 1080 1035 1082 1045 1082 1236 1081 1237 1081 1280 1080 1281 1059 1281 1058 1280 1057 1229 1056 1228 1056 1163 1055 1162 1055 1036 1054 1035 1054 1026 1051 1016 1029 1016 1027 1018 1022 1031 1020 1033 979 1033 976 1049 976 1056 975 1057 975 1280 974 1281 959 1281 958 1280 957 1229 956 1228 955 1051 954 1050 954 1040 953 1039 952 1024 950 1016 929 1016 927 1026 927 1034 926 1035 925 1059 924 1060 924 1148 925 1149 925 1175 926 1176 928 1229 929 1230 929 1236 931 1237 932 1242 933 1267 934 1268 934 1287 935 1288 936 1356 937 1357 937 1416 974 1416 974 1281 975 1280 990 1280 993 1211 994 1210 994 1203 997 1187 999 1185 1010 1185 1011 1186 1013 1195 1013 1202 1014 1203 1014 1214 1015 1215 1016 1269 1017 1270 1018 1416 1508 1416ZM1223 654 1230 654 1231 655 1231 680 1232 681 1232 956 1230 963 1223 963 1222 962 1221 949 1220 948 1220 722 1221 721 1221 675 1222 674 1222 655ZM1169 654 1174 654 1175 655 1175 681 1176 682 1176 956 1174 963 1169 963 1168 962 1167 949 1166 948 1166 722 1167 721 1167 675 1168 674 1168 655ZM146 0 141 142 140 143 140 164 139 165 137 230 136 231 136 251 135 252 135 273 134 274 133 315 132 316 131 356 130 357 128 526 127 527 127 590 126 591 126 655 125 656 125 721 124 722 124 741 123 742 123 756 122 757 122 772 121 773 120 804 119 805 117 851 116 852 116 866 115 867 111 945 110 946 110 959 109 960 106 1012 105 1013 105 1025 104 1026 104 1038 103 1039 103 1051 102 1052 102 1073 101 1074 101 1116 100 1117 100 1416 424 1416 423 1373 422 1372 422 1352 421 1351 420 1326 409 1326 407 1319 406 1285 405 1284 405 1257 404 1256 404 1211 403 1210 403 1050 404 1049 407 993 409 984 430 984 431 958 432 957 431 573 430 572 430 547 419 547 418 546 417 506 416 505 416 466 415 465 415 407 414 406 416 0Z"/>
<path fill="#ff6a00" fill-rule="evenodd" d="M839 1415 839 1416 910 1416 910 1415ZM929 1039 928 1051 927 1052 927 1164 928 1165 929 1191 931 1192 933 1200 935 1230 936 1231 937 1285 938 1286 939 1416 970 1416 970 1415 954 1415 953 1414 953 1060 952 1059 952 1050 951 1049 950 1039ZM1508 0 1337 0 1334 116 1333 117 1333 138 1332 139 1331 166 1330 167 1307 169 1298 171 1290 171 1289 172 1281 172 1280 173 1272 173 1271 174 1263 174 1262 175 1254 175 1253 176 1245 176 1235 178 1226 178 1216 180 1207 180 1197 182 1179 183 1177 214 1176 215 1176 224 1175 225 1175 233 1174 234 1172 253 1170 257 1159 257 1159 267 1158 268 1156 362 1155 363 1154 491 1153 492 1152 539 1151 540 1151 554 1150 555 1148 587 1146 589 1145 588 1143 566 1142 565 1142 556 1141 555 1141 546 1140 545 1140 533 1139 532 1139 519 1138 516 1136 553 1135 554 1135 573 1134 574 1133 636 1132 637 1132 689 1131 690 1131 727 1130 728 1119 728 1118 727 1116 520 1115 519 1115 475 1114 474 1114 442 1113 441 1111 375 1110 377 1109 410 1108 411 1108 425 1107 426 1105 456 1104 457 1099 457 1094 460 1079 472 1067 485 1066 484 1065 453 1064 452 1064 430 1063 429 1063 398 1062 397 1062 355 1061 354 1061 332 1060 331 1060 312 1059 311 1059 294 1058 292 1056 337 1055 338 1055 356 1054 357 1054 380 1055 381 1056 450 1057 451 1059 622 1060 623 1060 950 1061 951 1062 983 1063 984 1065 1004 1081 1010 1082 1033 1083 1034 1082 1386 1081 1387 1081 1414 1080 1415 1054 1415 1053 1414 1053 1059 1052 1058 1051 1041 1050 1039 1029 1039 1025 1047 1022 1059 1020 1061 979 1061 979 1146 1018 1146 1021 1148 1019 1149 1019 1416 1508 1416ZM1223 582 1230 582 1231 583 1232 652 1233 653 1233 961 1232 962 1232 973 1230 979 1223 979 1222 978 1221 967 1220 966 1220 956 1219 955 1219 682 1220 681 1221 598 1222 597 1222 583ZM1169 582 1174 582 1175 583 1176 654 1177 655 1177 961 1176 962 1176 973 1174 980 1169 980 1168 979 1167 967 1166 966 1166 956 1165 955 1165 682 1166 681 1167 598 1168 597 1168 583ZM147 0 145 61 144 62 144 85 143 86 143 108 142 109 142 131 141 132 141 153 140 154 140 175 139 176 139 196 138 197 138 218 137 219 133 323 132 324 131 364 130 365 125 731 124 732 124 746 123 747 123 762 122 763 122 778 121 779 121 793 120 794 120 809 119 810 119 825 118 826 118 841 117 842 117 856 116 857 116 872 115 873 115 888 114 889 114 903 113 904 111 950 110 951 106 1017 105 1018 105 1030 104 1031 104 1043 103 1044 103 1056 102 1057 101 1134 100 1135 100 1416 420 1416 420 1415 401 1415 400 1414 400 1149 353 1149 352 1148 353 1147 400 1147 400 1054 401 1053 401 1040 402 1039 402 1026 403 1025 403 1012 404 1011 404 997 405 996 408 947 409 946 430 946 430 728 409 728 408 727 410 726 410 372 408 371 410 370 410 0Z"/>
<path fill="#ff7500" fill-rule="evenodd" d="M1029 1061 1029 1146 1050 1146 1050 1061ZM929 1061 929 1146 950 1146 950 1061ZM1508 0 1339 0 1337 129 1336 130 1336 158 1335 159 1334 199 1333 200 1333 214 1332 215 1331 233 1330 234 1319 234 1318 235 1307 235 1306 236 1294 236 1293 237 1281 237 1280 238 1267 238 1266 239 1254 239 1253 240 1240 240 1239 241 1226 241 1225 242 1212 242 1211 243 1197 243 1196 244 1182 244 1179 245 1177 265 1172 291 1170 294 1159 294 1158 335 1157 336 1157 381 1156 382 1156 480 1155 481 1155 534 1154 535 1153 589 1152 590 1152 601 1151 602 1149 627 1148 628 1148 633 1146 635 1142 619 1139 589 1138 591 1137 629 1136 630 1135 690 1134 691 1134 948 1133 949 1131 972 1130 973 1119 973 1118 972 1117 960 1116 959 1116 949 1115 948 1115 667 1114 666 1113 566 1112 565 1112 530 1111 529 1111 500 1110 499 1110 494 1109 516 1108 517 1108 525 1107 526 1105 546 1104 547 1099 547 1092 556 1078 579 1068 599 1068 601 1067 602 1065 598 1065 589 1065 595 1064 596 1064 640 1063 641 1063 959 1064 960 1065 975 1081 985 1082 999 1083 1000 1083 1016 1084 1017 1084 1050 1085 1051 1084 1416 1508 1416ZM1223 510 1230 510 1231 511 1232 557 1233 558 1233 609 1234 610 1235 950 1234 951 1234 968 1233 969 1232 990 1230 995 1223 995 1221 991 1219 966 1218 965 1218 952 1217 951 1218 623 1219 622 1219 577 1220 576 1221 521 1222 520 1222 511ZM1169 510 1174 510 1175 511 1176 558 1177 559 1177 613 1178 614 1179 949 1178 950 1178 967 1177 968 1176 990 1174 996 1169 996 1167 992 1165 966 1164 965 1164 952 1163 951 1164 623 1165 622 1165 577 1166 576 1167 521 1168 520 1168 511ZM148 0 147 4 147 27 146 28 146 51 145 52 145 75 144 76 144 98 143 99 143 120 142 121 142 142 141 143 141 163 140 164 140 185 139 186 139 206 138 207 138 227 137 228 137 248 136 249 136 269 135 270 135 290 134 291 133 331 132 332 132 351 131 352 131 382 130 383 130 445 129 446 129 509 128 510 128 573 127 574 125 736 124 737 124 752 123 753 123 768 122 769 122 783 121 784 121 799 120 800 120 815 119 816 119 830 118 831 118 846 117 847 117 862 116 863 116 878 115 879 115 893 114 894 111 955 110 956 106 1022 105 1023 105 1035 104 1036 104 1048 103 1049 103 1065 102 1066 102 1108 101 1109 101 1416 350 1416 350 1052 351 1051 352 1014 353 1013 355 961 356 960 356 694 357 693 358 608 359 607 360 608 367 637 374 674 374 680 376 687 380 722 381 723 380 928 381 929 381 962 382 963 382 982 383 983 384 1003 388 1022 400 1022 402 988 403 987 403 974 404 973 404 959 405 958 405 639 404 638 404 577 403 576 403 539 402 538 400 379 399 378 399 250 398 249 398 189 397 188 396 0Z"/>
<path fill="#ff8000" fill-rule="evenodd" d="M1508 0 1485 0 1482 53 1480 61 1475 61 1466 45 1459 45 1458 44 1455 0 1404 0 1401 44 1399 45 1395 54 1392 69 1390 73 1379 73 1378 72 1377 56 1376 55 1376 40 1375 39 1374 0 1347 0 1345 86 1344 87 1342 148 1341 149 1341 163 1340 164 1340 176 1339 177 1337 247 1336 248 1334 283 1333 284 1331 300 1330 301 1305 301 1304 302 1179 306 1177 316 1172 329 1170 331 1159 331 1159 344 1158 345 1158 438 1157 439 1157 554 1156 555 1155 630 1154 631 1153 658 1148 680 1146 681 1144 678 1140 666 1139 658 1139 665 1138 666 1137 721 1136 722 1136 957 1135 958 1135 968 1134 969 1132 994 1130 998 1119 998 1118 997 1116 988 1116 981 1115 980 1115 972 1114 971 1114 960 1113 959 1113 718 1112 717 1112 667 1111 666 1110 611 1110 616 1106 634 1104 637 1099 637 1090 655 1078 685 1065 725 1065 947 1081 959 1083 965 1084 984 1085 985 1085 1019 1086 1020 1086 1416 1508 1416ZM1230 438 1232 446 1232 462 1233 463 1234 533 1235 534 1236 957 1235 958 1235 976 1234 977 1234 989 1233 990 1232 1006 1230 1010 1224 1010 1223 1011 1221 1007 1220 997 1219 996 1218 978 1217 977 1217 964 1216 963 1216 598 1217 597 1218 495 1219 494 1219 472 1220 471 1221 444 1223 438ZM1169 438 1174 438 1175 439 1175 445 1176 446 1177 490 1178 491 1178 539 1179 540 1180 955 1179 956 1179 976 1178 977 1177 1000 1174 1012 1169 1012 1167 1008 1165 990 1164 989 1163 965 1162 964 1162 598 1163 597 1163 532 1164 531 1165 472 1166 471 1167 444ZM148 0 144 109 143 110 143 130 142 131 142 152 141 153 137 257 136 258 133 339 132 340 132 359 131 360 129 532 128 533 128 596 127 597 127 660 126 661 126 724 125 725 125 742 124 743 121 805 120 806 119 836 118 837 118 852 117 853 117 867 116 868 114 915 113 916 111 960 110 961 109 987 108 988 106 1027 105 1028 105 1040 104 1041 103 1082 102 1083 102 1125 101 1126 101 1416 348 1416 348 1052 349 1051 349 1033 350 1032 350 1014 351 1013 351 995 352 994 352 976 353 975 353 957 354 956 354 674 355 673 355 596 356 595 356 547 357 546 358 490 360 488 369 506 380 540 381 552 382 553 383 621 384 622 384 682 385 683 385 954 386 955 386 966 387 967 388 983 389 984 400 984 402 950 403 949 403 716 402 715 401 597 400 596 400 557 399 556 399 519 398 518 398 458 397 457 395 127 394 126 394 0Z"/>
<path fill="#ff8a00" fill-rule="evenodd" d="M390 750 389 946 399 946 400 750ZM1181 732 1181 748 1214 748 1214 732ZM1139 732 1139 748 1160 748 1160 732ZM1099 732 1099 748 1110 748 1110 732ZM390 732 390 748 400 748 400 732ZM1099 727 1099 730 1110 730 1110 727ZM1181 405 1181 730 1214 730 1214 405ZM1160 405 1159 405 1159 726 1158 727 1139 727 1139 730 1160 730ZM389 405 389 726 390 730 400 730 400 727 395 727 394 726 394 405ZM1181 384 1181 403 1214 403 1214 384ZM1159 384 1159 403 1160 403 1160 384ZM389 384 389 403 394 403 394 384ZM1181 374 1181 382 1214 382 1214 374ZM1159 374 1159 382 1160 382 1160 374ZM389 374 389 382 394 382 394 374ZM1181 367 1181 372 1214 372 1214 367ZM1159 367 1159 372 1160 372 1160 367ZM1355 12 1355 33 1370 33 1370 12ZM1355 7 1355 10 1370 10 1370 7ZM1508 0 1489 0 1484 93 1483 94 1482 116 1480 122 1475 122 1473 119 1472 110 1466 91 1459 91 1458 90 1457 71 1456 70 1456 55 1455 54 1453 0 1406 0 1406 17 1405 18 1405 36 1404 37 1402 84 1401 85 1401 90 1399 91 1397 98 1394 122 1393 123 1392 140 1390 147 1371 147 1370 146 1370 35 1355 35 1355 366 1354 367 1237 367 1237 968 1236 969 1235 1002 1234 1003 1234 1011 1231 1025 1230 1026 1223 1026 1221 1024 1217 1003 1216 981 1215 980 1215 962 1214 961 1214 750 1181 750 1181 965 1180 966 1180 989 1179 990 1178 1013 1177 1014 1176 1025 1174 1028 1169 1028 1166 1022 1164 1006 1163 1005 1162 983 1161 982 1161 962 1160 961 1160 750 1139 750 1139 956 1138 957 1138 971 1137 972 1137 983 1136 984 1134 1007 1133 1008 1132 1020 1130 1023 1119 1023 1117 1021 1113 1000 1112 978 1111 977 1111 960 1110 959 1110 750 1099 750 1099 948 1089 965 1089 972 1088 973 1088 1009 1087 1010 1087 1236 1088 1237 1089 1416 1508 1416ZM1355 0 1355 5 1370 5 1370 0ZM149 0 147 54 146 55 146 76 145 77 145 98 144 99 144 119 143 120 143 141 142 142 142 162 141 163 141 183 140 184 140 203 139 204 139 224 138 225 138 245 137 246 137 265 136 266 136 286 135 287 135 306 134 307 134 326 133 327 133 346 132 347 132 366 131 367 131 429 130 430 130 492 129 493 126 731 125 732 125 747 124 748 123 779 122 780 120 826 119 827 119 841 118 842 118 857 117 858 117 873 116 874 116 889 115 890 115 904 114 905 112 951 111 952 109 992 108 993 105 1046 104 1047 104 1059 103 1060 102 1142 101 1143 101 1416 346 1416 346 1049 347 1048 347 1028 348 1027 351 957 352 956 353 367 354 366 388 366 389 367 389 372 394 372 394 367 390 366 392 0Z"/>
<path fill="#ff9500" fill-rule="evenodd" d="M1450 0 1409 0 1407 57 1406 58 1406 75 1405 76 1403 119 1402 120 1402 131 1401 136 1399 137 1396 163 1395 164 1391 219 1390 220 1379 220 1378 236 1377 237 1376 276 1375 277 1375 314 1374 315 1374 373 1373 374 1371 486 1370 487 1349 487 1348 486 1346 459 1345 458 1345 451 1344 450 1344 444 1340 427 1319 427 1317 437 1317 445 1316 446 1315 470 1314 471 1314 490 1313 491 1311 606 1310 607 1239 607 1238 988 1237 989 1236 1021 1232 1040 1230 1042 1223 1042 1219 1036 1215 1017 1214 999 1181 1001 1179 1030 1176 1042 1174 1044 1169 1044 1165 1038 1162 1027 1160 1003 1139 1004 1138 1016 1132 1046 1130 1049 1119 1049 1116 1046 1112 1037 1110 1023 1099 1023 1089 1029 1089 1053 1088 1054 1089 1236 1130 1236 1131 1237 1135 1325 1159 1344 1192 1373 1228 1409 1233 1416 1508 1416 1508 91 1489 91 1487 128 1486 129 1486 140 1485 141 1485 151 1484 152 1482 178 1480 183 1475 183 1474 182 1466 137 1459 137 1457 131 1455 92 1454 91 1454 76 1453 75 1453 58 1452 57ZM150 0 149 1 149 22 148 23 147 66 146 67 146 87 145 88 145 108 144 109 144 130 143 131 140 213 139 214 137 274 136 275 136 294 135 295 135 314 134 315 134 334 133 335 133 354 132 355 126 737 125 738 125 753 124 754 124 768 123 769 123 784 122 785 122 800 121 801 121 816 120 817 120 831 119 832 119 847 118 848 118 863 117 864 117 878 116 879 112 956 111 957 111 969 110 970 109 997 108 998 107 1024 106 1025 105 1051 104 1052 104 1073 103 1074 103 1116 102 1117 102 1416 344 1416 344 1169 323 1169 322 1168 323 1167 344 1167 344 1161 323 1161 322 1160 323 1159 344 1159 344 1147 343 1146 343 1135 344 1134 344 1065 314 1065 313 1064 314 1063 344 1063 345 987 346 986 346 923 347 922 347 869 348 868 348 814 349 813 349 757 350 754 333 754 332 753 333 752 350 752 350 737 334 737 333 736 334 735 350 735 350 727 329 727 328 726 327 536 326 535 326 500 325 499 325 478 324 477 323 450 322 449 321 439 303 439 301 431 301 347 302 346 302 323 303 322 304 294 305 293 324 293 325 281 326 280 326 270 327 269 329 221 330 220 330 198 331 197 331 171 332 170 336 0Z"/>
<path fill="#ff9f00" fill-rule="evenodd" d="M1409 73 1405 146 1404 147 1402 178 1401 182 1399 183 1398 196 1397 197 1394 246 1393 247 1391 293 1390 294 1379 294 1379 303 1378 304 1376 394 1375 395 1375 430 1374 431 1374 472 1373 473 1371 606 1370 607 1349 607 1348 606 1345 534 1344 533 1344 521 1343 520 1343 510 1342 509 1342 500 1341 499 1340 487 1319 487 1319 492 1318 493 1317 523 1316 524 1316 545 1315 546 1315 574 1314 575 1313 674 1312 675 1312 984 1311 985 1311 1007 1310 1008 1305 1008 1304 1009 1299 1009 1262 1016 1239 1022 1239 1035 1238 1036 1237 1050 1235 1054 1230 1058 1219 1057 1214 1051 1210 1051 1209 1052 1201 1052 1200 1053 1181 1055 1179 1058 1175 1060 1165 1060 1161 1058 1155 1058 1154 1059 1135 1061 1135 1147 1139 1148 1183 1170 1211 1186 1245 1208 1292 1244 1309 1259 1331 1281 1332 1416 1508 1416 1508 183 1489 183 1487 207 1486 208 1486 215 1485 216 1485 223 1484 224 1482 241 1480 245 1475 245 1474 244 1467 186 1466 183 1459 183 1457 178 1455 147 1454 146 1454 134 1453 133 1450 73 1449 73 1447 82 1445 109 1444 110 1441 182 1440 183 1419 183 1418 182 1415 110 1414 109 1412 82 1411 81 1411 76 1410 73ZM150 0 147 77 146 78 146 98 145 99 145 119 144 120 144 139 143 140 143 160 142 161 142 181 141 182 141 201 140 202 140 221 139 222 139 242 138 243 134 342 133 343 133 361 132 362 129 601 128 602 128 664 127 665 127 727 126 728 123 790 122 791 122 805 121 806 121 821 120 822 119 853 118 854 116 900 115 901 115 915 114 916 113 947 112 948 112 961 111 962 111 974 110 975 106 1043 105 1044 105 1056 104 1057 103 1134 102 1135 102 1416 320 1416 318 1267 317 1266 317 1245 316 1244 315 1219 314 1214 312 1213 311 1168 310 1167 310 1056 311 1055 312 1036 314 1032 318 1032 321 1019 322 1004 323 1003 323 992 324 991 324 977 325 976 325 958 326 957 327 834 326 833 325 608 324 607 324 568 323 567 323 541 322 540 321 511 302 511 301 510 299 363 300 362 300 336 301 335 301 311 302 310 305 222 307 219 326 219 328 172 329 171 329 151 330 150 331 100 332 99 334 0Z"/>
<path fill="#ffaa00" fill-rule="evenodd" d="M1409 147 1404 210 1403 211 1402 225 1401 228 1399 229 1398 246 1397 247 1395 290 1394 291 1394 308 1393 309 1391 366 1390 367 1379 367 1379 380 1378 381 1376 481 1375 482 1375 523 1374 524 1374 571 1373 572 1371 726 1370 727 1349 727 1348 726 1345 618 1344 617 1344 598 1343 597 1343 581 1342 580 1342 566 1341 565 1340 547 1319 547 1319 555 1318 556 1316 634 1315 635 1315 678 1314 679 1314 999 1315 1000 1316 1032 1318 1042 1322 1044 1330 1044 1332 1049 1332 1056 1333 1057 1335 1416 1508 1416 1508 275 1489 275 1487 287 1482 304 1480 306 1475 306 1474 305 1467 233 1466 229 1459 229 1457 225 1454 193 1453 192 1451 155 1450 154 1450 147 1449 147 1448 164 1447 165 1447 180 1446 181 1446 198 1445 199 1445 221 1444 222 1441 366 1440 367 1419 367 1418 366 1415 222 1414 221 1414 199 1413 198 1411 152 1410 147ZM1408 761 1409 760 1426 760 1427 761 1426 762 1409 762ZM1348 761 1349 760 1370 760 1371 761 1370 762 1349 762ZM1408 748 1409 747 1426 747 1427 748 1426 749 1409 749ZM1348 748 1349 747 1370 747 1371 748 1370 749 1349 749ZM1408 735 1409 734 1426 734 1427 735 1426 736 1409 736ZM1348 735 1349 734 1370 734 1371 735 1370 736 1349 736ZM1418 407 1419 406 1426 406 1427 407 1426 408 1419 408ZM1418 384 1419 383 1426 383 1427 384 1426 385 1419 385ZM151 0 150 4 150 24 149 25 149 46 148 47 148 67 147 68 147 87 146 88 146 108 145 109 145 129 144 130 144 149 143 150 143 170 142 171 142 190 141 191 141 210 140 211 140 230 139 231 139 250 138 251 138 270 137 271 137 290 136 291 136 310 135 311 135 330 134 331 134 349 133 350 133 374 132 375 132 436 131 437 131 498 130 499 127 732 126 733 126 748 125 749 124 780 123 781 121 827 120 828 120 842 119 843 119 858 118 859 118 874 117 875 117 890 116 891 116 905 115 906 113 952 112 953 108 1021 107 1022 106 1048 105 1049 105 1065 104 1066 104 1108 103 1109 103 1416 318 1416 315 1290 314 1289 314 1281 312 1280 312 1272 311 1271 310 1220 309 1219 308 1054 309 1053 309 1041 310 1040 310 1030 311 1029 313 1005 315 1003 319 1003 321 980 322 979 322 969 323 968 323 955 324 954 324 692 323 691 323 642 322 641 321 583 302 583 300 573 299 468 298 467 298 353 299 352 301 268 302 267 302 243 303 242 303 219 304 218 304 197 305 196 307 147 308 146 327 146 328 119 329 118 329 97 330 96 330 73 331 72 333 0Z"/>
<path fill="#ffb500" fill-rule="evenodd" d="M1409 220 1404 262 1402 272 1399 275 1399 281 1398 282 1396 329 1395 330 1395 348 1394 349 1391 438 1390 439 1379 439 1379 454 1378 455 1376 568 1375 569 1375 616 1374 617 1374 671 1373 672 1373 948 1372 949 1371 969 1368 971 1363 991 1361 1022 1360 1023 1349 1023 1348 1022 1347 1001 1346 1000 1346 960 1345 959 1345 701 1344 700 1344 675 1343 674 1341 615 1340 614 1340 607 1319 607 1319 618 1318 619 1317 680 1316 681 1316 724 1315 725 1315 949 1316 950 1316 978 1317 979 1318 1007 1319 1011 1329 1011 1332 1015 1334 1033 1335 1034 1335 1042 1336 1043 1336 1054 1337 1055 1338 1416 1508 1416 1508 367 1475 367 1474 366 1466 275 1459 275 1457 272 1454 251 1453 250 1451 226 1450 225 1450 220 1449 220 1448 247 1447 248 1447 270 1446 271 1446 298 1445 299 1442 427 1441 428 1441 438 1440 439 1435 439 1434 444 1433 471 1432 472 1432 494 1431 495 1430 597 1429 598 1429 948 1428 949 1428 963 1426 970 1418 970 1413 965 1408 963 1407 949 1406 948 1407 635 1408 634 1408 607 1410 606 1411 580 1412 579 1413 514 1414 513 1414 453 1415 452 1415 333 1414 332 1414 299 1413 298 1411 229 1410 228 1410 220ZM1468 765 1469 764 1480 764 1481 765 1480 766 1469 766ZM1474 407 1475 406 1480 406 1481 407 1480 408 1475 408ZM1474 382 1475 381 1480 381 1481 382 1480 383 1475 383ZM1474 373 1475 372 1480 372 1481 373 1480 374 1475 374ZM1474 371 1475 370 1480 370 1481 371 1480 372 1475 372ZM151 0 148 77 147 78 147 98 146 99 146 118 145 119 145 139 144 140 144 159 143 160 143 179 142 180 142 199 141 200 141 219 140 220 140 239 139 240 136 318 135 319 134 357 133 358 127 738 126 739 126 754 125 755 122 817 121 818 120 848 119 849 119 864 118 865 118 879 117 880 115 927 114 928 113 957 112 958 107 1040 106 1041 106 1054 105 1055 105 1082 104 1083 104 1125 103 1126 103 1416 316 1416 315 1362 314 1361 314 1348 312 1347 311 1333 310 1332 309 1296 308 1295 308 1262 307 1261 306 1052 307 1051 307 1034 308 1033 308 1019 309 1018 311 990 314 976 319 975 320 972 321 953 322 952 322 850 321 849 322 702 321 701 321 662 320 661 320 655 301 655 300 654 300 642 299 641 298 583 297 582 297 340 298 339 298 307 299 306 299 275 300 274 300 244 301 243 303 162 304 161 304 139 305 138 305 120 306 119 308 78 310 72 329 72 331 0Z"/>
<path fill="#ffbf00" fill-rule="evenodd" d="M1489 761 1489 772 1508 772 1508 761ZM1489 753 1489 759 1508 759 1508 753ZM1489 740 1489 751 1508 751 1508 740ZM1489 732 1489 738 1508 738 1508 732ZM1489 727 1489 730 1508 730 1508 727ZM1319 667 1318 715 1317 716 1317 953 1318 954 1318 972 1319 973 1319 979 1330 979 1332 981 1336 995 1337 1007 1338 1008 1338 1017 1339 1022 1340 1022 1341 1001 1342 1000 1342 960 1343 959 1343 723 1342 722 1341 677 1340 676 1340 667ZM1409 294 1403 317 1399 321 1399 328 1398 329 1397 363 1396 364 1394 461 1393 462 1393 483 1392 484 1391 510 1390 511 1379 511 1379 528 1378 529 1376 655 1375 656 1375 709 1374 710 1374 961 1373 962 1372 987 1371 992 1368 995 1366 1012 1365 1013 1364 1034 1363 1035 1363 1052 1362 1053 1362 1169 1361 1170 1361 1185 1358 1188 1357 1202 1356 1203 1355 1234 1354 1235 1352 1416 1508 1416 1508 774 1489 774 1489 953 1488 954 1487 974 1486 975 1482 1002 1480 1004 1475 1004 1474 1003 1472 982 1467 964 1467 953 1466 952 1466 647 1467 646 1467 531 1468 530 1470 361 1469 360 1469 349 1468 348 1468 337 1467 336 1466 321 1459 321 1457 319 1453 308 1451 296 1449 294 1442 502 1441 503 1441 510 1440 511 1435 511 1435 520 1434 521 1433 576 1432 577 1432 622 1431 623 1431 696 1430 697 1430 961 1429 962 1428 987 1426 993 1419 993 1413 983 1408 979 1407 967 1406 966 1406 957 1405 956 1405 618 1406 617 1406 542 1407 541 1407 501 1408 500 1408 487 1410 486 1410 471 1411 470 1412 378 1413 377 1411 305 1410 304 1410 294ZM152 0 151 26 150 27 150 47 149 48 149 67 148 68 148 88 147 89 147 108 146 109 146 128 145 129 145 148 144 149 144 168 143 169 143 188 142 189 142 208 141 209 141 227 140 228 140 247 139 248 139 267 138 268 138 287 137 288 137 306 136 307 136 326 135 327 135 345 134 346 134 365 133 366 130 606 129 607 129 669 128 670 128 728 127 729 124 791 123 792 123 806 122 807 122 822 121 823 120 854 119 855 117 901 116 902 116 916 115 917 114 948 113 949 112 976 111 977 106 1059 105 1060 104 1142 103 1143 103 1416 314 1416 314 1415 305 1415 304 1414 304 1194 283 1194 282 1193 283 1192 304 1192 304 1161 283 1161 282 1160 283 1159 304 1159 304 1151 283 1151 282 1150 283 1149 304 1149 303 1146 304 1071 274 1071 273 1070 274 1069 304 1069 306 982 307 981 307 961 277 961 276 960 277 959 307 959 307 949 309 946 314 946 314 936 315 935 315 900 316 899 316 863 317 862 317 825 318 824 319 774 275 774 274 773 275 772 319 772 319 761 276 761 275 760 276 759 319 759 319 753 276 753 275 752 276 751 319 751 320 740 277 740 276 739 277 738 320 738 320 732 277 732 276 731 277 730 320 730 320 727 294 727 293 726 293 696 294 695 294 518 295 517 295 361 296 360 299 207 300 206 304 0Z"/>
<path fill="#ffca00" fill-rule="evenodd" d="M1319 779 1319 946 1340 946 1340 779ZM1319 754 1319 777 1340 777 1340 754ZM1319 745 1319 752 1340 752 1340 745ZM1319 740 1319 743 1340 743 1340 740ZM1319 729 1319 738 1340 738 1340 729ZM1399 367 1397 481 1396 482 1396 509 1395 510 1395 531 1394 532 1392 577 1390 583 1379 583 1379 602 1378 603 1377 690 1376 691 1376 956 1375 957 1375 979 1374 980 1373 1004 1372 1005 1372 1012 1368 1019 1366 1045 1365 1046 1365 1059 1364 1060 1364 1192 1363 1193 1362 1251 1361 1252 1361 1261 1359 1262 1358 1288 1357 1289 1356 1351 1355 1352 1355 1409 1354 1410 1354 1416 1375 1416 1377 1338 1378 1337 1378 1326 1379 1325 1390 1325 1392 1330 1392 1335 1395 1346 1395 1359 1396 1360 1396 1384 1397 1385 1397 1410 1398 1411 1398 1416 1508 1416 1508 1076 1475 1076 1474 1075 1475 1074 1508 1074 1508 1065 1475 1065 1474 1064 1475 1063 1508 1063 1508 1061 1475 1061 1474 1060 1472 1018 1471 1017 1471 1008 1470 1007 1470 1001 1467 986 1467 976 1466 975 1466 965 1465 964 1465 954 1464 953 1464 367 1449 367 1448 445 1447 446 1447 481 1446 482 1446 509 1445 510 1444 549 1443 550 1443 564 1442 565 1441 582 1440 583 1435 583 1435 597 1434 598 1433 681 1432 682 1432 956 1431 957 1430 994 1429 995 1428 1012 1426 1016 1419 1016 1418 1015 1414 1003 1411 997 1408 995 1406 985 1406 978 1405 977 1404 953 1403 952 1403 367ZM152 0 148 98 147 99 147 118 146 119 146 138 145 139 145 158 144 159 142 217 141 218 141 237 140 238 139 276 138 277 137 315 136 316 135 354 134 355 128 733 127 734 127 749 126 750 122 828 121 829 119 875 118 876 118 890 117 891 115 938 114 939 114 953 113 954 113 967 112 968 112 981 111 982 111 995 110 996 110 1009 109 1010 109 1023 108 1024 108 1037 107 1038 107 1051 106 1052 106 1073 105 1074 105 1116 104 1117 104 1416 279 1416 279 1352 278 1351 277 1277 276 1276 275 1243 274 1242 274 1237 272 1236 272 1225 271 1224 270 1156 269 1155 270 1017 269 1016 268 987 266 984 265 943 266 942 266 915 267 914 270 805 271 804 271 778 272 777 276 639 279 635 280 616 281 615 282 587 283 586 283 566 284 565 284 540 285 539 286 462 287 461 287 403 288 402 288 351 289 350 293 183 294 182 298 0Z"/>
<path fill="#ffd400" fill-rule="evenodd" d="M1399 547 1397 604 1396 605 1396 618 1395 619 1395 629 1394 630 1392 652 1390 655 1379 655 1378 722 1377 723 1377 987 1376 988 1376 1008 1375 1009 1374 1027 1372 1036 1369 1039 1368 1051 1367 1052 1367 1169 1366 1170 1365 1278 1364 1279 1364 1303 1363 1304 1362 1333 1361 1338 1359 1339 1359 1351 1358 1352 1357 1416 1373 1416 1374 1306 1375 1305 1376 1257 1377 1256 1377 1243 1379 1236 1390 1236 1392 1244 1392 1256 1393 1257 1393 1267 1395 1277 1395 1291 1396 1292 1399 1389 1400 1390 1400 1416 1424 1416 1426 1312 1427 1311 1427 1290 1429 1280 1440 1280 1441 1281 1445 1329 1448 1345 1451 1348 1451 1357 1452 1358 1454 1416 1508 1416 1508 1281 1495 1281 1494 1280 1491 1257 1486 1237 1475 1237 1474 1236 1474 1220 1473 1219 1472 1053 1471 1052 1470 1028 1469 1027 1469 1019 1467 1009 1467 999 1466 998 1466 989 1465 988 1464 970 1463 969 1463 956 1462 955 1462 655 1461 654 1460 547 1449 547 1448 586 1447 587 1447 604 1446 605 1444 638 1441 654 1440 655 1435 655 1434 721 1433 722 1433 987 1432 988 1431 1020 1428 1036 1426 1039 1419 1039 1418 1038 1412 1016 1408 1012 1406 999 1405 998 1405 990 1404 989 1404 980 1403 979 1403 965 1402 964 1402 706 1401 705 1401 581 1400 580 1400 547ZM153 0 150 68 149 69 149 88 148 89 148 108 147 109 147 128 146 129 146 148 145 149 145 167 144 168 144 187 143 188 143 207 142 208 142 226 141 227 141 246 140 247 140 265 139 266 139 285 138 286 138 304 137 305 137 324 136 325 136 343 135 344 135 362 134 363 134 415 133 416 133 476 132 477 132 533 131 534 131 589 130 590 130 651 129 652 128 739 127 740 127 755 126 756 126 770 125 771 125 786 124 787 124 802 123 803 123 817 122 818 122 833 121 834 121 849 120 850 120 865 119 866 119 880 118 881 114 958 113 959 113 972 112 973 112 986 111 987 111 1000 110 1001 110 1014 109 1015 109 1028 108 1029 108 1042 107 1043 107 1056 106 1057 105 1134 104 1135 104 1416 277 1416 275 1338 274 1337 274 1326 272 1325 272 1320 271 1319 270 1285 269 1284 269 1257 268 1256 267 1046 266 1045 266 1023 264 1021 264 1014 263 1013 262 956 263 955 263 924 264 923 267 814 268 813 268 787 269 786 269 759 270 758 270 732 271 731 271 691 272 690 274 598 275 597 275 576 276 575 277 547 279 546 279 537 280 536 282 472 283 471 285 362 286 361 287 303 288 302 288 272 289 271 289 242 290 241 290 211 291 210 291 179 292 178 292 148 293 147 293 115 294 114 294 83 295 82 297 0Z"/>
<path fill="#ffdf00" fill-rule="evenodd" d="M1370 1201 1369 1201 1369 1414 1368 1415 1359 1415 1359 1416 1370 1416ZM1369 1191 1369 1199 1370 1199 1370 1191ZM1369 1169 1369 1189 1370 1189 1370 1169ZM1369 1159 1369 1167 1370 1167 1370 1159ZM1379 753 1379 951 1390 951 1391 952 1390 953 1379 953 1379 962 1390 962 1391 963 1390 964 1379 964 1379 1060 1378 1061 1369 1061 1369 1157 1370 1157 1370 1147 1371 1146 1390 1146 1391 1147 1393 1193 1394 1194 1395 1223 1396 1224 1396 1243 1397 1244 1400 1329 1401 1330 1403 1416 1420 1416 1420 1201 1418 1200 1420 1199 1420 1191 1418 1190 1420 1189 1420 1169 1418 1168 1420 1167 1420 1159 1418 1158 1420 1157 1420 1147 1421 1146 1440 1146 1441 1147 1445 1243 1446 1244 1448 1276 1449 1280 1451 1281 1452 1302 1453 1303 1454 1346 1455 1347 1455 1378 1456 1379 1456 1416 1508 1416 1508 1415 1495 1415 1494 1414 1492 1379 1491 1378 1491 1367 1490 1366 1487 1330 1486 1326 1475 1326 1473 1317 1472 1262 1471 1261 1471 1201 1470 1200 1470 1055 1469 1054 1469 1043 1468 1042 1466 1013 1463 1000 1462 978 1461 977 1461 960 1460 959 1460 753 1435 753 1435 951 1440 951 1441 952 1440 953 1435 953 1435 962 1440 962 1441 963 1440 964 1435 964 1435 1060 1434 1061 1419 1061 1418 1060 1411 1030 1407 1026 1404 1013 1403 997 1402 996 1402 984 1401 983 1401 963 1400 962 1400 753ZM1435 745 1435 751 1460 751 1460 745ZM1379 745 1379 751 1400 751 1400 745ZM1435 740 1435 743 1460 743 1460 740ZM1379 740 1379 743 1400 743 1400 740ZM1435 727 1435 738 1460 738 1460 727ZM1379 727 1379 738 1400 738 1400 727ZM154 0 153 1 153 20 152 21 152 40 151 41 149 99 148 100 147 138 146 139 146 158 145 159 145 177 144 178 144 197 143 198 141 255 140 256 140 274 139 275 139 293 138 294 138 313 137 314 137 332 136 333 136 351 135 352 135 380 134 381 134 444 133 445 133 504 132 505 129 729 128 730 128 744 127 745 127 760 126 761 126 776 125 777 125 792 124 793 124 807 123 808 123 823 122 824 122 839 121 840 121 854 120 855 120 870 119 871 119 886 118 887 114 963 113 964 113 977 112 978 112 991 111 992 111 1005 110 1006 110 1019 109 1020 109 1033 108 1034 108 1048 107 1049 107 1065 106 1066 106 1108 105 1109 105 1416 274 1416 274 1415 265 1415 264 1414 264 1201 262 1200 264 1199 264 1191 262 1190 264 1189 264 1169 262 1168 264 1167 264 1159 262 1158 264 1157 264 1147 263 1146 264 1061 256 1061 255 1060 258 980 259 979 259 964 258 963 260 957 259 935 260 934 260 912 261 911 261 888 262 887 262 864 263 863 263 840 264 839 264 816 265 815 267 753 236 753 235 752 236 751 267 751 267 745 236 745 235 744 236 743 267 743 267 740 236 740 235 739 236 738 268 738 271 558 272 557 272 531 273 530 275 479 276 478 277 459 280 455 283 345 284 344 287 238 288 237 288 210 289 209 289 181 290 180 290 152 291 151 291 123 292 122 292 93 293 92 295 0Z"/>
<path fill="#ffea00" fill-rule="evenodd" d="M1449 1004 1448 1017 1447 1018 1447 1029 1446 1030 1446 1048 1445 1049 1445 1157 1446 1158 1448 1207 1449 1208 1449 1213 1451 1214 1452 1218 1454 1246 1455 1247 1455 1262 1456 1263 1457 1318 1458 1319 1459 1416 1486 1416 1486 1415 1469 1415 1468 1414 1468 1056 1467 1055 1466 1037 1464 1034 1461 1019 1460 1004ZM1399 1004 1398 1017 1397 1018 1397 1029 1396 1030 1396 1048 1395 1049 1395 1155 1396 1156 1398 1212 1399 1213 1399 1227 1400 1228 1401 1251 1402 1252 1403 1280 1410 1280 1411 1250 1412 1249 1412 1220 1413 1219 1413 1177 1414 1176 1414 1059 1411 1047 1406 1042 1404 1037 1401 1022 1400 1004ZM154 0 152 50 151 51 151 70 150 71 150 89 149 90 149 109 148 110 148 128 147 129 147 148 146 149 146 167 145 168 145 187 144 188 144 206 143 207 143 225 142 226 142 244 141 245 141 264 140 265 140 283 139 284 139 302 138 303 138 321 137 322 137 340 136 341 136 360 135 361 134 473 133 474 133 535 132 536 132 593 131 594 129 734 128 735 127 766 126 767 126 781 125 782 125 797 124 798 123 829 122 830 120 876 119 877 119 891 118 892 115 954 114 955 111 1011 110 1012 110 1025 109 1026 109 1039 108 1040 108 1053 107 1054 106 1125 105 1126 105 1416 261 1416 260 1414 259 1262 258 1261 257 1220 256 1219 256 1214 254 1213 254 1205 253 1204 252 1153 251 1152 252 1042 253 1041 252 985 231 985 230 984 227 969 225 965 221 963 221 940 222 939 225 877 226 876 228 839 229 838 232 774 233 773 233 756 234 755 234 737 235 736 238 367 239 366 280 366 280 351 281 350 281 317 282 316 282 283 283 282 283 249 284 248 284 214 285 213 285 178 286 177 288 84 254 84 253 83 254 82 288 82 289 61 255 61 254 60 255 59 289 59 289 40 256 40 255 39 256 38 289 38 256 38 255 37 256 36 289 36 290 17 256 17 255 16 256 15 290 15 256 15 255 14 256 13 290 13 290 0Z"/>
<path fill="#fff400" fill-rule="evenodd" d="M1449 1070 1449 1146 1466 1146 1466 1070ZM1399 1070 1399 1146 1410 1146 1410 1070ZM1449 1061 1449 1068 1466 1068 1466 1061ZM1399 1061 1399 1068 1410 1068 1410 1061ZM155 0 154 4 154 22 153 23 153 42 152 43 152 61 151 62 151 80 150 81 149 119 148 120 148 138 147 139 147 157 146 158 145 196 144 197 144 215 143 216 143 234 142 235 142 253 141 254 141 272 140 273 138 330 137 331 137 349 136 350 136 371 135 372 135 439 134 440 134 504 133 505 133 566 132 567 130 729 129 730 129 745 128 746 128 760 127 761 127 776 126 777 125 808 124 809 122 855 121 856 121 870 120 871 116 949 115 950 111 1017 110 1018 110 1031 109 1032 108 1058 107 1059 106 1140 105 1141 105 1416 259 1416 257 1294 256 1293 256 1281 254 1280 254 1275 253 1274 251 1216 250 1215 250 1184 249 1183 250 1023 229 1023 228 1022 226 991 223 980 220 979 220 940 221 939 223 892 224 891 226 845 227 844 228 814 229 813 232 753 233 752 233 736 234 735 235 549 234 548 234 465 233 464 233 441 232 440 232 427 231 426 231 349 232 348 232 328 233 327 233 307 234 306 238 206 243 184 245 145 246 144 253 0Z"/>
<path fill="#ffff00" fill-rule="evenodd" d="M155 0 152 71 151 72 151 91 150 92 150 110 149 111 149 129 148 130 148 148 147 149 147 167 146 168 146 186 145 187 145 205 144 206 144 224 143 225 143 243 142 244 142 262 141 263 141 281 140 282 140 300 139 301 139 319 138 320 138 338 137 339 137 357 136 358 131 717 130 718 130 739 129 740 127 787 126 788 124 834 123 835 121 881 120 882 120 897 119 898 119 912 118 913 117 944 116 945 116 957 115 958 115 970 114 971 114 983 113 984 113 996 112 997 112 1009 111 1010 111 1022 110 1023 110 1036 109 1037 109 1050 108 1051 108 1069 107 1070 107 1112 106 1113 106 1416 258 1416 257 1414 256 1348 254 1347 253 1337 252 1336 251 1316 250 1315 250 1300 249 1299 249 1277 248 1276 247 1190 246 1189 247 1071 227 1071 226 1070 227 1069 247 1069 247 1065 227 1065 226 1064 227 1063 247 1063 247 1061 227 1061 226 1060 225 1016 224 1015 224 1007 223 1006 222 996 219 995 219 940 220 939 222 892 223 891 225 845 226 844 228 798 229 797 229 782 230 781 232 735 233 734 233 547 232 546 229 364 230 363 230 340 231 339 231 317 232 316 232 294 233 293 233 271 234 270 234 247 235 246 235 224 236 223 236 201 237 200 237 179 238 178 238 156 239 155 242 77 243 76 244 48 245 47 250 0Z"/>
<path fill="#ffff10" fill-rule="evenodd" d="M156 0 155 24 154 25 154 43 153 44 153 62 152 63 152 82 151 83 151 101 150 102 150 120 149 121 149 139 148 140 148 157 147 158 147 176 146 177 146 195 145 196 145 214 144 215 144 233 143 234 143 252 142 253 142 271 141 272 141 290 140 291 140 309 139 310 139 327 138 328 138 346 137 347 137 365 136 366 136 433 135 434 135 504 134 505 134 571 133 572 131 734 130 735 125 829 124 830 122 876 121 877 121 891 120 892 118 939 117 940 117 952 116 953 111 1028 110 1029 110 1041 109 1042 109 1054 108 1055 107 1127 106 1128 106 1416 256 1416 256 1415 223 1415 222 1414 222 1126 223 1125 224 1043 223 1042 222 1018 221 1013 218 1012 217 967 218 966 218 940 219 939 221 892 222 891 224 845 225 844 227 798 228 797 228 782 229 781 231 735 232 734 232 606 231 605 230 481 229 480 229 423 228 422 228 355 229 354 232 252 233 251 233 225 234 224 234 197 235 196 235 168 236 167 236 137 237 136 238 63 239 62 239 9 238 8 238 0Z"/>
<path fill="#ffff20" fill-rule="evenodd" d="M156 0 152 92 151 93 150 129 149 130 149 148 148 149 148 167 147 168 147 186 146 187 144 242 143 243 143 261 142 262 140 317 139 318 139 336 138 337 138 354 137 355 132 729 131 730 131 745 130 746 130 760 129 761 129 776 128 777 128 792 127 793 127 808 126 809 126 823 125 824 125 839 124 840 124 855 123 856 123 870 122 871 118 948 117 949 117 960 116 961 113 1008 112 1009 112 1020 111 1021 111 1033 110 1034 110 1046 109 1047 109 1059 108 1060 107 1143 106 1144 106 1416 212 1416 214 1326 216 1325 217 1296 218 1295 219 1201 220 1200 220 1126 221 1125 221 1083 222 1082 221 1035 220 1034 220 1029 217 1028 217 1022 216 1021 216 961 217 960 217 940 218 939 220 892 221 891 223 845 224 844 226 798 227 797 227 782 228 781 230 735 231 734 230 559 229 558 228 479 227 478 227 345 228 344 230 258 231 257 231 225 232 224 232 189 233 188 233 144 234 143 233 97 234 96 234 55 235 54 236 0Z"/>
<path fill="#ffff30" fill-rule="evenodd" d="M157 0 155 47 154 48 154 66 153 67 153 85 152 86 152 104 151 105 151 122 150 123 150 141 149 142 149 159 148 160 148 178 147 179 147 196 146 197 146 215 145 216 145 233 144 234 144 252 143 253 143 270 142 271 142 289 141 290 141 307 140 308 140 326 139 327 139 344 138 345 138 362 137 363 136 503 135 504 135 576 134 577 134 647 133 648 132 739 131 740 129 787 128 788 126 834 125 835 123 881 122 882 122 897 121 898 121 912 120 913 119 944 118 945 116 978 115 979 115 989 114 990 110 1051 109 1052 109 1072 108 1073 108 1115 107 1116 107 1416 211 1416 212 1277 213 1276 213 1247 214 1246 214 1237 216 1236 216 1220 217 1219 218 1126 219 1125 219 1083 220 1082 220 1053 219 1052 219 1045 216 1044 214 1036 213 1014 214 1013 214 980 215 979 216 939 217 938 217 923 218 922 222 845 223 844 224 814 225 813 225 798 226 797 226 782 227 781 229 735 230 734 229 606 228 605 227 550 226 549 225 363 226 362 228 266 229 265 228 188 229 187 229 144 230 143 230 108 231 107 231 75 232 74 232 44 233 43 234 0Z"/>
<path fill="#ffff40" fill-rule="evenodd" d="M232 0 161 0 160 13 159 14 159 24 158 25 158 35 157 36 155 75 154 76 154 91 153 92 153 107 152 108 152 123 151 124 151 140 150 141 150 157 149 158 149 174 148 175 147 209 146 210 146 227 145 228 145 245 144 246 144 262 143 263 139 352 138 353 133 734 132 735 127 829 126 830 124 876 123 877 123 891 122 892 120 939 119 940 119 951 118 952 118 962 117 963 117 972 116 973 111 1043 110 1044 110 1056 109 1057 108 1130 107 1131 107 1416 209 1416 209 1147 210 1146 216 1146 217 1093 206 1093 205 1092 206 1091 217 1091 218 1061 209 1061 208 1056 209 1055 209 1039 210 1038 210 1023 211 1022 211 1007 212 1006 212 990 213 989 213 973 214 972 214 956 215 955 220 854 221 853 221 839 222 838 226 767 227 766 227 751 228 750 228 735 229 734 229 672 228 671 227 651 226 650 225 605 224 604 224 363 222 354 222 336 221 335 221 292 222 291 223 220 224 219 224 192 225 191 225 165 226 164 226 139 227 138 227 114 228 113 228 88 229 87 229 63 230 62Z"/>
<path fill="#ffff50" fill-rule="evenodd" d="M188 61 160 61 159 62 157 81 156 82 156 92 155 93 151 155 150 156 149 187 148 188 148 204 147 205 147 221 146 222 146 238 145 239 145 255 144 256 144 272 143 273 143 290 142 291 142 307 141 308 141 325 140 326 140 342 139 343 139 360 138 361 134 729 133 730 133 745 132 746 132 760 131 761 131 776 130 777 130 792 129 793 129 808 128 809 128 823 127 824 127 839 126 840 126 855 125 856 125 870 124 871 120 948 119 949 119 958 118 959 118 968 117 969 117 978 116 979 111 1048 110 1049 110 1060 109 1061 108 1145 107 1146 107 1416 208 1416 208 1400 207 1399 207 1306 206 1305 206 1281 204 1280 204 1268 203 1267 201 1140 202 1139 203 1059 204 1058 204 1042 205 1041 205 1026 206 1025 209 958 210 957 210 947 214 946 214 938 215 937 215 919 216 918 216 900 217 899 217 880 218 879 221 811 192 811 191 810 192 809 221 809 223 761 195 761 194 760 195 759 223 759 224 758 195 758 194 757 195 756 224 756 224 754 195 754 194 753 195 752 224 752 224 750 196 750 195 749 196 748 224 748 225 727 201 727 200 726 200 721 201 720 201 622 202 621 202 521 203 520 203 419 204 418 204 344 205 343 205 202 204 201 203 162 202 161 200 132 198 124 197 103 196 102 196 95 195 94 193 77Z"/>
<path fill="#ffff60" fill-rule="evenodd" d="M156 122 154 147 153 148 153 158 152 159 151 182 150 183 148 222 147 223 145 265 144 266 144 282 143 283 143 299 142 300 142 316 141 317 141 333 140 334 140 350 139 351 139 373 138 374 138 459 137 460 137 545 136 546 136 629 135 630 134 739 133 740 131 787 130 788 128 834 127 835 125 881 124 882 124 897 123 898 123 912 122 913 121 944 120 945 120 954 119 955 119 964 118 965 118 974 117 975 117 984 116 985 112 1040 111 1041 111 1052 110 1053 110 1074 109 1075 109 1117 108 1118 108 1416 206 1416 206 1415 200 1415 199 1414 199 1112 200 1111 202 1004 179 1004 178 1003 180 946 181 945 181 930 182 929 185 867 186 866 186 852 187 851 189 804 190 803 192 757 193 756 193 742 194 741 194 716 195 715 196 385 195 384 194 273 193 272 193 251 192 250 192 206 191 205 190 164 189 163 189 152 188 151 188 142 187 141 185 122Z"/>
<path fill="#ffff70" fill-rule="evenodd" d="M182 183 153 183 150 221 149 222 149 233 148 234 144 301 143 302 143 315 142 316 142 330 141 331 141 344 140 345 140 359 139 360 135 734 134 735 129 829 128 830 126 876 125 877 125 891 124 892 122 939 121 940 121 951 120 952 120 960 118 970 113 1033 112 1034 112 1045 111 1046 111 1057 110 1058 110 1089 109 1090 109 1132 108 1133 108 1416 164 1416 164 1395 165 1394 166 1147 167 1146 196 1146 197 1082 169 1082 168 1081 169 1080 197 1080 198 1071 169 1071 168 1070 169 1069 198 1069 198 1061 172 1061 171 1060 175 995 176 994 176 981 177 980 177 966 178 965 178 952 179 951 180 921 181 920 181 905 182 904 186 826 187 825 189 779 190 778 190 764 191 763 192 732 193 731 193 487 192 486 191 425 190 424 187 375 186 374 186 249 185 248 185 224 184 223 184 206 183 205Z"/>
<path fill="#ffff80" fill-rule="evenodd" d="M179 245 150 245 149 247 145 308 144 309 144 322 143 323 143 336 142 337 142 350 141 351 141 364 140 365 136 729 135 730 135 745 134 746 134 760 133 761 133 776 132 777 132 792 131 793 131 808 130 809 130 823 129 824 129 839 128 840 128 855 127 856 127 870 126 871 122 948 121 949 121 957 120 958 119 974 118 975 114 1026 113 1027 113 1038 112 1039 112 1049 111 1050 111 1062 110 1063 109 1185 108 1186 108 1416 163 1416 163 1245 164 1244 164 1126 165 1125 166 1057 167 1056 167 1047 168 1046 168 1037 169 1036 169 1027 170 1026 170 1017 171 1016 171 1007 172 1006 172 997 173 996 175 967 176 966 176 956 177 955 181 880 182 879 182 864 183 863 183 848 184 847 184 833 185 832 185 817 186 816 186 801 187 800 188 770 189 769 189 754 190 753 190 738 191 737 191 557 190 556 190 526 189 525 186 495 185 494 184 458 183 457 182 378 181 377 181 292 180 291Z"/>
<path fill="#ffff8f" fill-rule="evenodd" d="M175 306 146 306 143 355 142 356 136 739 135 740 133 787 132 788 130 834 129 835 127 881 126 882 126 897 125 898 125 912 124 913 123 944 122 945 122 954 121 955 121 963 120 964 117 999 116 1000 116 1009 115 1010 115 1020 114 1021 114 1031 113 1032 113 1042 112 1043 112 1053 111 1054 111 1077 110 1078 110 1120 109 1121 109 1416 161 1416 162 1126 163 1125 164 1056 165 1055 167 1025 168 1024 168 1016 170 1007 174 959 175 958 175 948 176 947 180 870 181 869 182 839 183 838 183 823 184 822 185 792 186 791 186 776 187 775 187 760 188 759 189 729 190 728 189 627 183 607 182 586 181 585 181 570 180 569 180 550 179 549 179 522 178 521 177 354 176 353 176 311Z"/>
<path fill="#ffff9f" fill-rule="evenodd" d="M131 821 123 951 122 952 121 970 120 971 120 978 119 979 119 986 117 995 113 1046 112 1047 112 1057 111 1058 110 1135 109 1136 109 1416 160 1416 160 1126 161 1125 162 1054 163 1053 163 1040 164 1039 164 1026 165 1025 165 1012 166 1011 169 955 170 954 170 947 174 946 174 940 175 939 175 924 176 923 176 908 177 907 177 892 178 891 178 875 179 874 179 859 180 858 180 842 181 841 182 821ZM131 814 131 819 182 819 182 809 183 808 132 808 132 813ZM132 798 132 806 183 806 183 795 133 795ZM133 782 133 793 183 793 184 791 184 782ZM135 754 134 780 184 780 186 754ZM135 751 186 751 186 741 136 741 136 750ZM141 516 139 726 137 727 136 738 187 738 187 727 169 727 168 726 170 516ZM142 494 141 514 170 514 171 494ZM142 471 142 492 171 492 171 471ZM142 449 142 469 171 469 171 449ZM142 431 142 447 171 447 171 431ZM142 427 142 429 171 429 171 427ZM142 420 142 425 171 425 171 420ZM143 405 142 418 171 418 172 405ZM143 386 143 403 172 403 172 386ZM143 375 143 384 172 384 172 375ZM143 367 143 373 172 373 172 367Z"/>
<path fill="#ffffaf" fill-rule="evenodd" d="M121 970 120 986 119 987 117 1008 116 1009 115 1029 114 1030 113 1050 112 1051 112 1064 111 1065 110 1236 109 1237 109 1416 158 1416 158 1245 137 1245 136 1244 137 1243 158 1243 158 1235 137 1235 136 1234 137 1233 158 1233 158 1225 137 1225 136 1224 137 1223 158 1223 158 1198 137 1198 136 1197 137 1196 158 1196 158 1189 137 1189 136 1188 137 1186 158 1186 158 1184 137 1184 136 1183 137 1182 158 1182 158 1179 137 1179 136 1178 137 1177 158 1177 158 1174 137 1174 136 1173 137 1172 158 1172 158 1151 137 1151 136 1150 137 1149 158 1149 159 1094 138 1094 137 1093 138 1092 159 1092 160 1064 139 1064 138 1063 139 1062 160 1062 160 1061 139 1061 138 1060 139 1033 140 1032 140 1004 141 1003 140 976 138 970Z"/>
<path fill="#ffffbf" fill-rule="evenodd" d="M120 993 117 1015 116 1016 116 1023 115 1024 113 1054 112 1055 112 1079 111 1080 111 1122 110 1123 110 1416 135 1416 135 1104 136 1103 136 1061 137 1060 137 1033 138 1032 138 1004 137 1003 137 993Z"/>
<path fill="#ffffcf" fill-rule="evenodd" d="M118 1016 115 1031 115 1037 114 1038 113 1058 112 1059 111 1138 110 1139 110 1416 134 1416 134 1362 133 1361 133 1126 134 1125 134 1083 135 1082 135 1016Z"/>
<path fill="#ffffdf" fill-rule="evenodd" d="M116 1039 113 1052 112 1110 111 1111 110 1416 132 1416 132 1104 133 1103 134 1039Z"/>
<path fill="#ffffef" fill-rule="evenodd" d="M112 1092 112 1125 111 1126 111 1416 131 1416 131 1245 130 1244 131 1092ZM113 1076 112 1090 131 1090 132 1076ZM113 1064 113 1074 132 1074 132 1064ZM113 1061 113 1062 132 1062 132 1061Z"/>
<path fill="#ffffff" fill-rule="evenodd" d="M111 1415 111 1416 130 1416 130 1415Z"/>
</g>
<path d="M218.8 46.4 L203.4 223.6 L203.4 400.4 L187.5 577.5 L187.5 754.5" fill="none" stroke="#000" stroke-width="3.9" stroke-dasharray="18.6 14.35" stroke-dashoffset="1.5"/>
<circle cx="218.8" cy="46.4" r="8.9" fill="#000"/>
<circle cx="203.4" cy="223.6" r="8.9" fill="#000"/>
<circle cx="203.4" cy="400.4" r="8.9" fill="#000"/>
<circle cx="187.5" cy="577.5" r="8.9" fill="#000"/>
<circle cx="187.5" cy="754.5" r="8.9" fill="#000"/>
<rect x="112.5" y="46.3" width="754.3" height="708.3000000000001" fill="none" stroke="#000" stroke-width="1.7"/>
<line x1="201.2" y1="754.6" x2="201.2" y2="746.8000000000001" stroke="#000" stroke-width="1.7"/>
<line x1="201.2" y1="46.3" x2="201.2" y2="54.099999999999994" stroke="#000" stroke-width="1.7"/>
<text x="201.2" y="803.6" font-family="Liberation Sans" font-size="39" text-anchor="middle">100</text>
<line x1="312.2" y1="754.6" x2="312.2" y2="746.8000000000001" stroke="#000" stroke-width="1.7"/>
<line x1="312.2" y1="46.3" x2="312.2" y2="54.099999999999994" stroke="#000" stroke-width="1.7"/>
<text x="312.2" y="803.6" font-family="Liberation Sans" font-size="39" text-anchor="middle">200</text>
<line x1="423.1" y1="754.6" x2="423.1" y2="746.8000000000001" stroke="#000" stroke-width="1.7"/>
<line x1="423.1" y1="46.3" x2="423.1" y2="54.099999999999994" stroke="#000" stroke-width="1.7"/>
<text x="423.1" y="803.6" font-family="Liberation Sans" font-size="39" text-anchor="middle">300</text>
<line x1="534.0" y1="754.6" x2="534.0" y2="746.8000000000001" stroke="#000" stroke-width="1.7"/>
<line x1="534.0" y1="46.3" x2="534.0" y2="54.099999999999994" stroke="#000" stroke-width="1.7"/>
<text x="534.0" y="803.6" font-family="Liberation Sans" font-size="39" text-anchor="middle">400</text>
<line x1="644.9" y1="754.6" x2="644.9" y2="746.8000000000001" stroke="#000" stroke-width="1.7"/>
<line x1="644.9" y1="46.3" x2="644.9" y2="54.099999999999994" stroke="#000" stroke-width="1.7"/>
<text x="644.9" y="803.6" font-family="Liberation Sans" font-size="39" text-anchor="middle">500</text>
<line x1="755.9" y1="754.6" x2="755.9" y2="746.8000000000001" stroke="#000" stroke-width="1.7"/>
<line x1="755.9" y1="46.3" x2="755.9" y2="54.099999999999994" stroke="#000" stroke-width="1.7"/>
<text x="755.9" y="803.6" font-family="Liberation Sans" font-size="39" text-anchor="middle">600</text>
<line x1="866.8" y1="754.6" x2="866.8" y2="746.8000000000001" stroke="#000" stroke-width="1.7"/>
<line x1="866.8" y1="46.3" x2="866.8" y2="54.099999999999994" stroke="#000" stroke-width="1.7"/>
<text x="866.8" y="803.6" font-family="Liberation Sans" font-size="39" text-anchor="middle">700</text>
<line x1="112.5" y1="117.1" x2="120.3" y2="117.1" stroke="#000" stroke-width="1.7"/>
<line x1="866.8" y1="117.1" x2="859.0" y2="117.1" stroke="#000" stroke-width="1.7"/>
<line x1="112.5" y1="188.0" x2="120.3" y2="188.0" stroke="#000" stroke-width="1.7"/>
<line x1="866.8" y1="188.0" x2="859.0" y2="188.0" stroke="#000" stroke-width="1.7"/>
<line x1="112.5" y1="258.8" x2="120.3" y2="258.8" stroke="#000" stroke-width="1.7"/>
<line x1="866.8" y1="258.8" x2="859.0" y2="258.8" stroke="#000" stroke-width="1.7"/>
<line x1="112.5" y1="329.6" x2="120.3" y2="329.6" stroke="#000" stroke-width="1.7"/>
<line x1="866.8" y1="329.6" x2="859.0" y2="329.6" stroke="#000" stroke-width="1.7"/>
<line x1="112.5" y1="400.5" x2="120.3" y2="400.5" stroke="#000" stroke-width="1.7"/>
<line x1="866.8" y1="400.5" x2="859.0" y2="400.5" stroke="#000" stroke-width="1.7"/>
<line x1="112.5" y1="471.3" x2="120.3" y2="471.3" stroke="#000" stroke-width="1.7"/>
<line x1="866.8" y1="471.3" x2="859.0" y2="471.3" stroke="#000" stroke-width="1.7"/>
<line x1="112.5" y1="542.1" x2="120.3" y2="542.1" stroke="#000" stroke-width="1.7"/>
<line x1="866.8" y1="542.1" x2="859.0" y2="542.1" stroke="#000" stroke-width="1.7"/>
<line x1="112.5" y1="612.9" x2="120.3" y2="612.9" stroke="#000" stroke-width="1.7"/>
<line x1="866.8" y1="612.9" x2="859.0" y2="612.9" stroke="#000" stroke-width="1.7"/>
<line x1="112.5" y1="683.8" x2="120.3" y2="683.8" stroke="#000" stroke-width="1.7"/>
<line x1="866.8" y1="683.8" x2="859.0" y2="683.8" stroke="#000" stroke-width="1.7"/>
<text x="75.7" y="57.2" font-family="Liberation Sans" font-size="39">5</text>
<text x="51.9" y="237.8" font-family="Liberation Sans" font-size="39">4.5</text>
<text x="74.7" y="414.2" font-family="Liberation Sans" font-size="39">4</text>
<text x="52.5" y="596.6" font-family="Liberation Sans" font-size="39">3.5</text>
<text x="76" y="774.3" font-family="Liberation Sans" font-size="39">3</text>
<text x="115" y="28" font-family="Liberation Sans" font-size="40">(a)</text>
<text x="305" y="29.3" font-family="Liberation Sans" font-size="38">frequency ratio <tspan font-family="Liberation Serif" font-size="42">ω</tspan><tspan font-size="25" dy="9.3">w</tspan><tspan dy="-9.3">/</tspan><tspan font-family="Liberation Serif" font-size="42">ω</tspan><tspan font-size="25" dy="9.3">0</tspan></text>
<text x="270" y="851.3" font-family="Liberation Sans" font-size="38">channel thickness t<tspan font-size="25" dy="9">c</tspan><tspan dy="-9">(nm)</tspan></text>
<text transform="translate(28,501) rotate(-90)" font-family="Liberation Sans" font-size="39">period P (<tspan font-family="Liberation Serif">μ</tspan>m)</text>
<rect x="888" y="739.07" width="55" height="11.53" fill="#0b0000"/>
<rect x="888" y="728.14" width="55" height="11.53" fill="#150000"/>
<rect x="888" y="717.21" width="55" height="11.53" fill="#200000"/>
<rect x="888" y="706.28" width="55" height="11.53" fill="#2a0000"/>
<rect x="888" y="695.35" width="55" height="11.53" fill="#350000"/>
<rect x="888" y="684.42" width="55" height="11.53" fill="#400000"/>
<rect x="888" y="673.49" width="55" height="11.53" fill="#4a0000"/>
<rect x="888" y="662.56" width="55" height="11.53" fill="#550000"/>
<rect x="888" y="651.63" width="55" height="11.53" fill="#600000"/>
<rect x="888" y="640.70" width="55" height="11.53" fill="#6a0000"/>
<rect x="888" y="629.77" width="55" height="11.53" fill="#750000"/>
<rect x="888" y="618.84" width="55" height="11.53" fill="#800000"/>
<rect x="888" y="607.91" width="55" height="11.53" fill="#8a0000"/>
<rect x="888" y="596.98" width="55" height="11.53" fill="#950000"/>
<rect x="888" y="586.05" width="55" height="11.53" fill="#9f0000"/>
<rect x="888" y="575.12" width="55" height="11.53" fill="#aa0000"/>
<rect x="888" y="564.20" width="55" height="11.53" fill="#b50000"/>
<rect x="888" y="553.27" width="55" height="11.53" fill="#bf0000"/>
<rect x="888" y="542.34" width="55" height="11.53" fill="#ca0000"/>
<rect x="888" y="531.41" width="55" height="11.53" fill="#d40000"/>
<rect x="888" y="520.48" width="55" height="11.53" fill="#df0000"/>
<rect x="888" y="509.55" width="55" height="11.53" fill="#ea0000"/>
<rect x="888" y="498.62" width="55" height="11.53" fill="#f40000"/>
<rect x="888" y="487.69" width="55" height="11.53" fill="#ff0000"/>
<rect x="888" y="476.76" width="55" height="11.53" fill="#ff0b00"/>
<rect x="888" y="465.83" width="55" height="11.53" fill="#ff1500"/>
<rect x="888" y="454.90" width="55" height="11.53" fill="#ff2000"/>
<rect x="888" y="443.97" width="55" height="11.53" fill="#ff2a00"/>
<rect x="888" y="433.04" width="55" height="11.53" fill="#ff3500"/>
<rect x="888" y="422.11" width="55" height="11.53" fill="#ff4000"/>
<rect x="888" y="411.18" width="55" height="11.53" fill="#ff4a00"/>
<rect x="888" y="400.25" width="55" height="11.53" fill="#ff5500"/>
<rect x="888" y="389.32" width="55" height="11.53" fill="#ff6000"/>
<rect x="888" y="378.39" width="55" height="11.53" fill="#ff6a00"/>
<rect x="888" y="367.46" width="55" height="11.53" fill="#ff7500"/>
<rect x="888" y="356.53" width="55" height="11.53" fill="#ff8000"/>
<rect x="888" y="345.60" width="55" height="11.53" fill="#ff8a00"/>
<rect x="888" y="334.67" width="55" height="11.53" fill="#ff9500"/>
<rect x="888" y="323.74" width="55" height="11.53" fill="#ff9f00"/>
<rect x="888" y="312.81" width="55" height="11.53" fill="#ffaa00"/>
<rect x="888" y="301.88" width="55" height="11.53" fill="#ffb500"/>
<rect x="888" y="290.95" width="55" height="11.53" fill="#ffbf00"/>
<rect x="888" y="280.02" width="55" height="11.53" fill="#ffca00"/>
<rect x="888" y="269.09" width="55" height="11.53" fill="#ffd400"/>
<rect x="888" y="258.16" width="55" height="11.53" fill="#ffdf00"/>
<rect x="888" y="247.23" width="55" height="11.53" fill="#ffea00"/>
<rect x="888" y="236.30" width="55" height="11.53" fill="#fff400"/>
<rect x="888" y="225.38" width="55" height="11.53" fill="#ffff00"/>
<rect x="888" y="214.45" width="55" height="11.53" fill="#ffff10"/>
<rect x="888" y="203.52" width="55" height="11.53" fill="#ffff20"/>
<rect x="888" y="192.59" width="55" height="11.53" fill="#ffff30"/>
<rect x="888" y="181.66" width="55" height="11.53" fill="#ffff40"/>
<rect x="888" y="170.73" width="55" height="11.53" fill="#ffff50"/>
<rect x="888" y="159.80" width="55" height="11.53" fill="#ffff60"/>
<rect x="888" y="148.87" width="55" height="11.53" fill="#ffff70"/>
<rect x="888" y="137.94" width="55" height="11.53" fill="#ffff80"/>
<rect x="888" y="127.01" width="55" height="11.53" fill="#ffff8f"/>
<rect x="888" y="116.08" width="55" height="11.53" fill="#ffff9f"/>
<rect x="888" y="105.15" width="55" height="11.53" fill="#ffffaf"/>
<rect x="888" y="94.22" width="55" height="11.53" fill="#ffffbf"/>
<rect x="888" y="83.29" width="55" height="11.53" fill="#ffffcf"/>
<rect x="888" y="72.36" width="55" height="11.53" fill="#ffffdf"/>
<rect x="888" y="61.43" width="55" height="11.53" fill="#ffffef"/>
<rect x="888" y="50.50" width="55" height="11.53" fill="#ffffff"/>
<rect x="888" y="50.5" width="55" height="699.5" fill="none" stroke="#000" stroke-width="1.7"/>
<line x1="888" y1="674.2" x2="895.8" y2="674.2" stroke="#000" stroke-width="1.7"/>
<line x1="943" y1="674.2" x2="935.2" y2="674.2" stroke="#000" stroke-width="1.7"/>
<text x="951" y="685.7" font-family="Liberation Sans" font-size="39">1</text>
<line x1="888" y1="573.2" x2="895.8" y2="573.2" stroke="#000" stroke-width="1.7"/>
<line x1="943" y1="573.2" x2="935.2" y2="573.2" stroke="#000" stroke-width="1.7"/>
<text x="951" y="584.7" font-family="Liberation Sans" font-size="39">1.02</text>
<line x1="888" y1="472.2" x2="895.8" y2="472.2" stroke="#000" stroke-width="1.7"/>
<line x1="943" y1="472.2" x2="935.2" y2="472.2" stroke="#000" stroke-width="1.7"/>
<text x="951" y="483.7" font-family="Liberation Sans" font-size="39">1.04</text>
<line x1="888" y1="371.2" x2="895.8" y2="371.2" stroke="#000" stroke-width="1.7"/>
<line x1="943" y1="371.2" x2="935.2" y2="371.2" stroke="#000" stroke-width="1.7"/>
<text x="951" y="382.7" font-family="Liberation Sans" font-size="39">1.06</text>
<line x1="888" y1="270.2" x2="895.8" y2="270.2" stroke="#000" stroke-width="1.7"/>
<line x1="943" y1="270.2" x2="935.2" y2="270.2" stroke="#000" stroke-width="1.7"/>
<text x="951" y="281.7" font-family="Liberation Sans" font-size="39">1.08</text>
<line x1="888" y1="169.2" x2="895.8" y2="169.2" stroke="#000" stroke-width="1.7"/>
<line x1="943" y1="169.2" x2="935.2" y2="169.2" stroke="#000" stroke-width="1.7"/>
<text x="951" y="180.7" font-family="Liberation Sans" font-size="39">1.1</text>
<line x1="888" y1="68.2" x2="895.8" y2="68.2" stroke="#000" stroke-width="1.7"/>
<line x1="943" y1="68.2" x2="935.2" y2="68.2" stroke="#000" stroke-width="1.7"/>
<text x="951" y="79.7" font-family="Liberation Sans" font-size="39">1.12</text>
<defs><clipPath id="cb"><rect x="116.8" y="916.3" width="757.7" height="596.7"/></clipPath></defs>
<g clip-path="url(#cb)" fill="none" stroke-width="2.1">
<path d="M117.3 1496.8 L131.6 1358.4 L145.9 1283.2 L160.2 1234.9 L174.5 1199.8 L188.8 1172.2 L203.1 1040.0 L217.4 1042.0 L231.7 1035.1 L246.0 1034.1 L260.3 1041.0 L274.6 1041.0 L288.9 1047.8 L303.2 1053.7 L317.5 1060.5 L331.8 1068.3 L346.1 1075.1 L360.4 1082.0 L374.7 1095.4 L389.0 1102.7 L403.3 1108.5 L417.6 1108.5 L431.9 1115.9 L446.2 1123.2 L460.5 1130.0 L474.8 1130.5 L489.1 1137.8 L503.4 1144.0 L517.7 1144.0 L532.0 1151.0 L546.3 1153.0 L560.6 1157.5 L574.9 1164.5 L589.2 1165.5 L603.5 1172.0 L617.8 1170.5 L632.1 1179.3 L646.4 1185.1 L660.7 1185.1 L675.0 1192.4 L689.3 1192.4 L703.6 1199.8 L717.9 1199.8 L732.2 1207.1 L746.5 1212.9 L760.8 1212.9 L775.1 1220.2 L789.4 1220.2 L803.7 1227.6 L818.0 1233.4 L832.3 1233.4 L846.6 1240.7 L860.9 1240.7 L875.2 1248.0" stroke="#000" stroke-dasharray="28.5 28.5" stroke-dashoffset="1.16"/>
<path d="M117.3 1490.0 L131.6 1358.4 L145.9 1283.2 L160.2 1227.6 L174.5 1191.0 L188.8 1172.0 L203.1 1158.5 L217.4 1145.1 L231.7 1137.2 L246.0 1130.5 L260.3 1130.5 L274.6 1123.8 L288.9 1123.8 L303.2 1123.8 L317.5 1130.5 L331.8 1130.5 L346.1 1130.5 L360.4 1137.2 L374.7 1137.2 L389.0 1144.8 L403.3 1144.8 L417.6 1151.5 L431.9 1151.5 L446.2 1158.2 L460.5 1165.0 L474.8 1165.0 L489.1 1171.7 L503.4 1171.7 L517.7 1179.6 L532.0 1186.3 L546.3 1193.0 L560.6 1193.0 L574.9 1199.8 L589.2 1206.5 L603.5 1206.5 L617.8 1212.9 L632.1 1220.2 L646.4 1220.2 L660.7 1227.6 L675.0 1234.9 L689.3 1241.5 L703.6 1241.5 L717.9 1248.0 L732.2 1255.4 L746.5 1261.2 L760.8 1261.2 L775.1 1268.5 L789.4 1275.9 L803.7 1283.2 L818.0 1283.2 L832.3 1290.5 L846.6 1296.3 L860.9 1303.7 L875.2 1303.7" stroke="#ff0000" stroke-dasharray="28.5 28.5" stroke-dashoffset="0.00"/>
<path d="M131.6 1532.0 L145.9 1449.0 L160.2 1376.8 L174.5 1325.6 L188.8 1294.9 L203.1 1273.0 L217.4 1255.4 L231.7 1251.0 L246.0 1251.0 L260.3 1259.8 L274.6 1261.2 L288.9 1268.5 L303.2 1277.3 L317.5 1294.9 L331.8 1299.3" stroke="#0000ff" stroke-dasharray="28.5 28.5" stroke-dashoffset="37.90"/>
<path d="M117.3 1213.0 L131.6 1168.0 L145.9 1116.6 L160.2 1081.5 L174.5 1056.6 L188.8 1046.3 L203.1 1040.5 L217.4 1033.2 L231.7 1022.9 L246.0 1009.8 L260.3 999.5 L274.6 984.9 L288.9 977.6 L303.2 967.3 L317.5 964.4 L331.8 957.1" stroke="#0000ff" stroke-dasharray="28.5 28.5" stroke-dashoffset="0.00"/>
<path d="M331.8 957.1 L338.3 1600.0" stroke="#0000ff" stroke-dasharray="28.5 28.5" stroke-dashoffset="11.00"/>
<path d="M331.8 1299.3 L334.0 1600.0" stroke="#0000ff" stroke-dasharray="28.5 28.5" stroke-dashoffset="7.30"/>
</g>
<g fill="none" stroke-width="2.3">
<circle cx="117.3" cy="1496.8" r="11.5" stroke="#000"/>
<circle cx="131.6" cy="1358.4" r="11.5" stroke="#000"/>
<circle cx="145.9" cy="1283.2" r="11.5" stroke="#000"/>
<circle cx="160.2" cy="1234.9" r="11.5" stroke="#000"/>
<circle cx="174.5" cy="1199.8" r="11.5" stroke="#000"/>
<circle cx="188.8" cy="1172.2" r="11.5" stroke="#000"/>
<circle cx="203.1" cy="1040.0" r="11.5" stroke="#000"/>
<circle cx="217.4" cy="1042.0" r="11.5" stroke="#000"/>
<circle cx="231.7" cy="1035.1" r="11.5" stroke="#000"/>
<circle cx="246.0" cy="1034.1" r="11.5" stroke="#000"/>
<circle cx="260.3" cy="1041.0" r="11.5" stroke="#000"/>
<circle cx="274.6" cy="1041.0" r="11.5" stroke="#000"/>
<circle cx="288.9" cy="1047.8" r="11.5" stroke="#000"/>
<circle cx="303.2" cy="1053.7" r="11.5" stroke="#000"/>
<circle cx="317.5" cy="1060.5" r="11.5" stroke="#000"/>
<circle cx="331.8" cy="1068.3" r="11.5" stroke="#000"/>
<circle cx="346.1" cy="1075.1" r="11.5" stroke="#000"/>
<circle cx="360.4" cy="1082.0" r="11.5" stroke="#000"/>
<circle cx="374.7" cy="1095.4" r="11.5" stroke="#000"/>
<circle cx="389.0" cy="1102.7" r="11.5" stroke="#000"/>
<circle cx="403.3" cy="1108.5" r="11.5" stroke="#000"/>
<circle cx="417.6" cy="1108.5" r="11.5" stroke="#000"/>
<circle cx="431.9" cy="1115.9" r="11.5" stroke="#000"/>
<circle cx="446.2" cy="1123.2" r="11.5" stroke="#000"/>
<circle cx="460.5" cy="1130.0" r="11.5" stroke="#000"/>
<circle cx="474.8" cy="1130.5" r="11.5" stroke="#000"/>
<circle cx="489.1" cy="1137.8" r="11.5" stroke="#000"/>
<circle cx="503.4" cy="1144.0" r="11.5" stroke="#000"/>
<circle cx="517.7" cy="1144.0" r="11.5" stroke="#000"/>
<circle cx="532.0" cy="1151.0" r="11.5" stroke="#000"/>
<circle cx="546.3" cy="1153.0" r="11.5" stroke="#000"/>
<circle cx="560.6" cy="1157.5" r="11.5" stroke="#000"/>
<circle cx="574.9" cy="1164.5" r="11.5" stroke="#000"/>
<circle cx="589.2" cy="1165.5" r="11.5" stroke="#000"/>
<circle cx="603.5" cy="1172.0" r="11.5" stroke="#000"/>
<circle cx="617.8" cy="1170.5" r="11.5" stroke="#000"/>
<circle cx="632.1" cy="1179.3" r="11.5" stroke="#000"/>
<circle cx="646.4" cy="1185.1" r="11.5" stroke="#000"/>
<circle cx="660.7" cy="1185.1" r="11.5" stroke="#000"/>
<circle cx="675.0" cy="1192.4" r="11.5" stroke="#000"/>
<circle cx="689.3" cy="1192.4" r="11.5" stroke="#000"/>
<circle cx="703.6" cy="1199.8" r="11.5" stroke="#000"/>
<circle cx="717.9" cy="1199.8" r="11.5" stroke="#000"/>
<circle cx="732.2" cy="1207.1" r="11.5" stroke="#000"/>
<circle cx="746.5" cy="1212.9" r="11.5" stroke="#000"/>
<circle cx="760.8" cy="1212.9" r="11.5" stroke="#000"/>
<circle cx="775.1" cy="1220.2" r="11.5" stroke="#000"/>
<circle cx="789.4" cy="1220.2" r="11.5" stroke="#000"/>
<circle cx="803.7" cy="1227.6" r="11.5" stroke="#000"/>
<circle cx="818.0" cy="1233.4" r="11.5" stroke="#000"/>
<circle cx="832.3" cy="1233.4" r="11.5" stroke="#000"/>
<circle cx="846.6" cy="1240.7" r="11.5" stroke="#000"/>
<circle cx="860.9" cy="1240.7" r="11.5" stroke="#000"/>
<circle cx="875.2" cy="1248.0" r="11.5" stroke="#000"/>
<rect x="108.2" y="1480.9" width="18.2" height="18.2" stroke="#ff0000"/>
<rect x="122.5" y="1349.3" width="18.2" height="18.2" stroke="#ff0000"/>
<rect x="136.8" y="1274.1" width="18.2" height="18.2" stroke="#ff0000"/>
<rect x="151.1" y="1218.5" width="18.2" height="18.2" stroke="#ff0000"/>
<rect x="165.4" y="1181.9" width="18.2" height="18.2" stroke="#ff0000"/>
<rect x="179.7" y="1162.9" width="18.2" height="18.2" stroke="#ff0000"/>
<rect x="194.0" y="1149.4" width="18.2" height="18.2" stroke="#ff0000"/>
<rect x="208.3" y="1136.0" width="18.2" height="18.2" stroke="#ff0000"/>
<rect x="222.6" y="1128.1" width="18.2" height="18.2" stroke="#ff0000"/>
<rect x="236.9" y="1121.4" width="18.2" height="18.2" stroke="#ff0000"/>
<rect x="251.2" y="1121.4" width="18.2" height="18.2" stroke="#ff0000"/>
<rect x="265.5" y="1114.7" width="18.2" height="18.2" stroke="#ff0000"/>
<rect x="279.8" y="1114.7" width="18.2" height="18.2" stroke="#ff0000"/>
<rect x="294.1" y="1114.7" width="18.2" height="18.2" stroke="#ff0000"/>
<rect x="308.4" y="1121.4" width="18.2" height="18.2" stroke="#ff0000"/>
<rect x="322.7" y="1121.4" width="18.2" height="18.2" stroke="#ff0000"/>
<rect x="337.0" y="1121.4" width="18.2" height="18.2" stroke="#ff0000"/>
<rect x="351.3" y="1128.1" width="18.2" height="18.2" stroke="#ff0000"/>
<rect x="365.6" y="1128.1" width="18.2" height="18.2" stroke="#ff0000"/>
<rect x="379.9" y="1135.7" width="18.2" height="18.2" stroke="#ff0000"/>
<rect x="394.2" y="1135.7" width="18.2" height="18.2" stroke="#ff0000"/>
<rect x="408.5" y="1142.4" width="18.2" height="18.2" stroke="#ff0000"/>
<rect x="422.8" y="1142.4" width="18.2" height="18.2" stroke="#ff0000"/>
<rect x="437.1" y="1149.1" width="18.2" height="18.2" stroke="#ff0000"/>
<rect x="451.4" y="1155.9" width="18.2" height="18.2" stroke="#ff0000"/>
<rect x="465.7" y="1155.9" width="18.2" height="18.2" stroke="#ff0000"/>
<rect x="480.0" y="1162.6" width="18.2" height="18.2" stroke="#ff0000"/>
<rect x="494.3" y="1162.6" width="18.2" height="18.2" stroke="#ff0000"/>
<rect x="508.6" y="1170.5" width="18.2" height="18.2" stroke="#ff0000"/>
<rect x="522.9" y="1177.2" width="18.2" height="18.2" stroke="#ff0000"/>
<rect x="537.2" y="1183.9" width="18.2" height="18.2" stroke="#ff0000"/>
<rect x="551.5" y="1183.9" width="18.2" height="18.2" stroke="#ff0000"/>
<rect x="565.8" y="1190.7" width="18.2" height="18.2" stroke="#ff0000"/>
<rect x="580.1" y="1197.4" width="18.2" height="18.2" stroke="#ff0000"/>
<rect x="594.4" y="1197.4" width="18.2" height="18.2" stroke="#ff0000"/>
<rect x="608.7" y="1203.8" width="18.2" height="18.2" stroke="#ff0000"/>
<rect x="623.0" y="1211.1" width="18.2" height="18.2" stroke="#ff0000"/>
<rect x="637.3" y="1211.1" width="18.2" height="18.2" stroke="#ff0000"/>
<rect x="651.6" y="1218.5" width="18.2" height="18.2" stroke="#ff0000"/>
<rect x="665.9" y="1225.8" width="18.2" height="18.2" stroke="#ff0000"/>
<rect x="680.2" y="1232.4" width="18.2" height="18.2" stroke="#ff0000"/>
<rect x="694.5" y="1232.4" width="18.2" height="18.2" stroke="#ff0000"/>
<rect x="708.8" y="1238.9" width="18.2" height="18.2" stroke="#ff0000"/>
<rect x="723.1" y="1246.3" width="18.2" height="18.2" stroke="#ff0000"/>
<rect x="737.4" y="1252.1" width="18.2" height="18.2" stroke="#ff0000"/>
<rect x="751.7" y="1252.1" width="18.2" height="18.2" stroke="#ff0000"/>
<rect x="766.0" y="1259.4" width="18.2" height="18.2" stroke="#ff0000"/>
<rect x="780.3" y="1266.8" width="18.2" height="18.2" stroke="#ff0000"/>
<rect x="794.6" y="1274.1" width="18.2" height="18.2" stroke="#ff0000"/>
<rect x="808.9" y="1274.1" width="18.2" height="18.2" stroke="#ff0000"/>
<rect x="823.2" y="1281.4" width="18.2" height="18.2" stroke="#ff0000"/>
<rect x="837.5" y="1287.2" width="18.2" height="18.2" stroke="#ff0000"/>
<rect x="851.8" y="1294.6" width="18.2" height="18.2" stroke="#ff0000"/>
<rect x="866.1" y="1294.6" width="18.2" height="18.2" stroke="#ff0000"/>
<path d="M117.3 1201.5 L130.8 1224.5 L103.8 1224.5Z" stroke="#0000ff"/>
<path d="M131.6 1156.5 L145.1 1179.5 L118.1 1179.5Z" stroke="#0000ff"/>
<path d="M145.9 1105.1 L159.4 1128.1 L132.4 1128.1Z" stroke="#0000ff"/>
<path d="M160.2 1070.0 L173.7 1093.0 L146.7 1093.0Z" stroke="#0000ff"/>
<path d="M174.5 1045.1 L188.0 1068.1 L161.0 1068.1Z" stroke="#0000ff"/>
<path d="M188.8 1034.8 L202.3 1057.8 L175.3 1057.8Z" stroke="#0000ff"/>
<path d="M203.1 1029.0 L216.6 1052.0 L189.6 1052.0Z" stroke="#0000ff"/>
<path d="M217.4 1021.7 L230.9 1044.7 L203.9 1044.7Z" stroke="#0000ff"/>
<path d="M231.7 1011.4 L245.2 1034.4 L218.2 1034.4Z" stroke="#0000ff"/>
<path d="M246.0 998.3 L259.5 1021.3 L232.5 1021.3Z" stroke="#0000ff"/>
<path d="M260.3 988.0 L273.8 1011.0 L246.8 1011.0Z" stroke="#0000ff"/>
<path d="M274.6 973.4 L288.1 996.4 L261.1 996.4Z" stroke="#0000ff"/>
<path d="M288.9 966.1 L302.4 989.1 L275.4 989.1Z" stroke="#0000ff"/>
<path d="M303.2 955.8 L316.7 978.8 L289.7 978.8Z" stroke="#0000ff"/>
<path d="M317.5 952.9 L331.0 975.9 L304.0 975.9Z" stroke="#0000ff"/>
<path d="M331.8 945.6 L345.3 968.6 L318.3 968.6Z" stroke="#0000ff"/>
<path d="M145.9 1460.5 L159.4 1437.5 L132.4 1437.5Z" stroke="#0000ff"/>
<path d="M160.2 1388.3 L173.7 1365.3 L146.7 1365.3Z" stroke="#0000ff"/>
<path d="M174.5 1337.1 L188.0 1314.1 L161.0 1314.1Z" stroke="#0000ff"/>
<path d="M188.8 1306.4 L202.3 1283.4 L175.3 1283.4Z" stroke="#0000ff"/>
<path d="M203.1 1284.5 L216.6 1261.5 L189.6 1261.5Z" stroke="#0000ff"/>
<path d="M217.4 1266.9 L230.9 1243.9 L203.9 1243.9Z" stroke="#0000ff"/>
<path d="M231.7 1262.5 L245.2 1239.5 L218.2 1239.5Z" stroke="#0000ff"/>
<path d="M246.0 1262.5 L259.5 1239.5 L232.5 1239.5Z" stroke="#0000ff"/>
<path d="M260.3 1271.3 L273.8 1248.3 L246.8 1248.3Z" stroke="#0000ff"/>
<path d="M274.6 1272.7 L288.1 1249.7 L261.1 1249.7Z" stroke="#0000ff"/>
<path d="M288.9 1280.0 L302.4 1257.0 L275.4 1257.0Z" stroke="#0000ff"/>
<path d="M303.2 1288.8 L316.7 1265.8 L289.7 1265.8Z" stroke="#0000ff"/>
<path d="M317.5 1306.4 L331.0 1283.4 L304.0 1283.4Z" stroke="#0000ff"/>
<path d="M331.8 1310.8 L345.3 1287.8 L318.3 1287.8Z" stroke="#0000ff"/>
</g>
<rect x="116.8" y="916.3" width="757.7" height="596.7" fill="none" stroke="#000" stroke-width="1.7"/>
<line x1="205.9" y1="1513" x2="205.9" y2="1505.2" stroke="#000" stroke-width="1.7"/>
<line x1="205.9" y1="916.3" x2="205.9" y2="924.0999999999999" stroke="#000" stroke-width="1.7"/>
<text x="209.4" y="1556.2" font-family="Liberation Sans" font-size="39" text-anchor="middle">100</text>
<line x1="317.4" y1="1513" x2="317.4" y2="1505.2" stroke="#000" stroke-width="1.7"/>
<line x1="317.4" y1="916.3" x2="317.4" y2="924.0999999999999" stroke="#000" stroke-width="1.7"/>
<text x="320.9" y="1556.2" font-family="Liberation Sans" font-size="39" text-anchor="middle">200</text>
<line x1="428.8" y1="1513" x2="428.8" y2="1505.2" stroke="#000" stroke-width="1.7"/>
<line x1="428.8" y1="916.3" x2="428.8" y2="924.0999999999999" stroke="#000" stroke-width="1.7"/>
<text x="432.3" y="1556.2" font-family="Liberation Sans" font-size="39" text-anchor="middle">300</text>
<line x1="540.2" y1="1513" x2="540.2" y2="1505.2" stroke="#000" stroke-width="1.7"/>
<line x1="540.2" y1="916.3" x2="540.2" y2="924.0999999999999" stroke="#000" stroke-width="1.7"/>
<text x="543.7" y="1556.2" font-family="Liberation Sans" font-size="39" text-anchor="middle">400</text>
<line x1="651.6" y1="1513" x2="651.6" y2="1505.2" stroke="#000" stroke-width="1.7"/>
<line x1="651.6" y1="916.3" x2="651.6" y2="924.0999999999999" stroke="#000" stroke-width="1.7"/>
<text x="655.1" y="1556.2" font-family="Liberation Sans" font-size="39" text-anchor="middle">500</text>
<line x1="763.1" y1="1513" x2="763.1" y2="1505.2" stroke="#000" stroke-width="1.7"/>
<line x1="763.1" y1="916.3" x2="763.1" y2="924.0999999999999" stroke="#000" stroke-width="1.7"/>
<text x="766.6" y="1556.2" font-family="Liberation Sans" font-size="39" text-anchor="middle">600</text>
<line x1="874.5" y1="1513" x2="874.5" y2="1505.2" stroke="#000" stroke-width="1.7"/>
<line x1="874.5" y1="916.3" x2="874.5" y2="924.0999999999999" stroke="#000" stroke-width="1.7"/>
<text x="878.0" y="1556.2" font-family="Liberation Sans" font-size="39" text-anchor="middle">700</text>
<line x1="116.8" y1="1479.8" x2="124.6" y2="1479.8" stroke="#000" stroke-width="1.7"/>
<line x1="874.5" y1="1479.8" x2="866.7" y2="1479.8" stroke="#000" stroke-width="1.7"/>
<text x="109.5" y="1493.8" font-family="Liberation Sans" font-size="39" text-anchor="end">24</text>
<line x1="116.8" y1="1413.5" x2="124.6" y2="1413.5" stroke="#000" stroke-width="1.7"/>
<line x1="874.5" y1="1413.5" x2="866.7" y2="1413.5" stroke="#000" stroke-width="1.7"/>
<text x="109.5" y="1427.5" font-family="Liberation Sans" font-size="39" text-anchor="end">26</text>
<line x1="116.8" y1="1347.2" x2="124.6" y2="1347.2" stroke="#000" stroke-width="1.7"/>
<line x1="874.5" y1="1347.2" x2="866.7" y2="1347.2" stroke="#000" stroke-width="1.7"/>
<text x="109.5" y="1361.2" font-family="Liberation Sans" font-size="39" text-anchor="end">28</text>
<line x1="116.8" y1="1281.0" x2="124.6" y2="1281.0" stroke="#000" stroke-width="1.7"/>
<line x1="874.5" y1="1281.0" x2="866.7" y2="1281.0" stroke="#000" stroke-width="1.7"/>
<text x="109.5" y="1295.0" font-family="Liberation Sans" font-size="39" text-anchor="end">30</text>
<line x1="116.8" y1="1214.7" x2="124.6" y2="1214.7" stroke="#000" stroke-width="1.7"/>
<line x1="874.5" y1="1214.7" x2="866.7" y2="1214.7" stroke="#000" stroke-width="1.7"/>
<text x="109.5" y="1228.7" font-family="Liberation Sans" font-size="39" text-anchor="end">32</text>
<line x1="116.8" y1="1148.3" x2="124.6" y2="1148.3" stroke="#000" stroke-width="1.7"/>
<line x1="874.5" y1="1148.3" x2="866.7" y2="1148.3" stroke="#000" stroke-width="1.7"/>
<text x="109.5" y="1162.3" font-family="Liberation Sans" font-size="39" text-anchor="end">34</text>
<line x1="116.8" y1="1082.0" x2="124.6" y2="1082.0" stroke="#000" stroke-width="1.7"/>
<line x1="874.5" y1="1082.0" x2="866.7" y2="1082.0" stroke="#000" stroke-width="1.7"/>
<text x="109.5" y="1096.0" font-family="Liberation Sans" font-size="39" text-anchor="end">36</text>
<line x1="116.8" y1="1015.8" x2="124.6" y2="1015.8" stroke="#000" stroke-width="1.7"/>
<line x1="874.5" y1="1015.8" x2="866.7" y2="1015.8" stroke="#000" stroke-width="1.7"/>
<text x="109.5" y="1029.8" font-family="Liberation Sans" font-size="39" text-anchor="end">38</text>
<line x1="116.8" y1="949.4" x2="124.6" y2="949.4" stroke="#000" stroke-width="1.7"/>
<line x1="874.5" y1="949.4" x2="866.7" y2="949.4" stroke="#000" stroke-width="1.7"/>
<text x="109.5" y="963.4" font-family="Liberation Sans" font-size="39" text-anchor="end">40</text>
<text x="115" y="900" font-family="Liberation Sans" font-size="40">(b)</text>
<text x="280" y="1603.7" font-family="Liberation Sans" font-size="38">channel thickness t<tspan font-size="25" dy="9">c</tspan><tspan dy="-9">(nm)</tspan></text>
<text transform="translate(41,1405) rotate(-90)" font-family="Liberation Sans" font-size="38">frequency <tspan font-family="Liberation Serif" font-size="41">ω</tspan>/(2<tspan font-family="Liberation Serif" font-size="41">π</tspan>) [THz]</text>
<rect x="662.6" y="863.8" width="360" height="301" fill="#fff" stroke="#000" stroke-width="1.3"/>
<path d="M677.6 909.9H700.1M738.5 909.9H762.3M709.3 909.9H730" stroke="#000" stroke-width="2.1"/>
<circle cx="719.9" cy="909.9" r="12" fill="none" stroke="#000" stroke-width="2.3"/>
<path d="M677.6 981.5H700.1M738.5 981.5H762.3M709.3 981.5H730" stroke="#ff0000" stroke-width="2.1"/>
<rect x="709.1999999999999" y="972.0" width="19" height="19" fill="none" stroke="#ff0000" stroke-width="2.3"/>
<path d="M677.6 1052.8H700.1M738.5 1052.8H762.3M709.3 1052.8H730" stroke="#0000ff" stroke-width="2.1"/>
<path d="M719.9 1064.3 L733.4 1041.3 L706.4 1041.3Z" fill="none" stroke="#0000ff" stroke-width="2.3"/>
<path d="M677.6 1120.4H700.1M738.5 1120.4H762.3M709.3 1120.4H730" stroke="#0000ff" stroke-width="2.1"/>
<path d="M719.9 1108.9 L733.4 1131.9 L706.4 1131.9Z" fill="none" stroke="#0000ff" stroke-width="2.3"/>
<text x="778" y="919.9" font-family="Liberation Sans" font-size="38.6"><tspan font-family="Liberation Serif" font-size="42">ω</tspan><tspan font-size="25" dy="9.5">w</tspan><tspan dx="-4.5" dy="-9.5"> (numerics)</tspan></text>
<text x="778" y="991.5" font-family="Liberation Sans" font-size="38.6"><tspan font-family="Liberation Serif" font-size="42">ω</tspan><tspan font-size="25" dy="9.5">w1</tspan><tspan dx="-4.5" dy="-9.5"> Eq. (10)</tspan></text>
<text x="778" y="1062.8" font-family="Liberation Sans" font-size="38.6"><tspan font-family="Liberation Serif" font-size="42">ω</tspan><tspan font-size="25" dy="9.5">w2-</tspan><tspan dx="-4.5" dy="-9.5"> Eq. (11)</tspan></text>
<text x="778" y="1130.4" font-family="Liberation Sans" font-size="38.6"><tspan font-family="Liberation Serif" font-size="42">ω</tspan><tspan font-size="25" dy="9.5">w2+</tspan><tspan dx="-4.5" dy="-9.5"> Eq. (11)</tspan></text>
</svg></body></html>
